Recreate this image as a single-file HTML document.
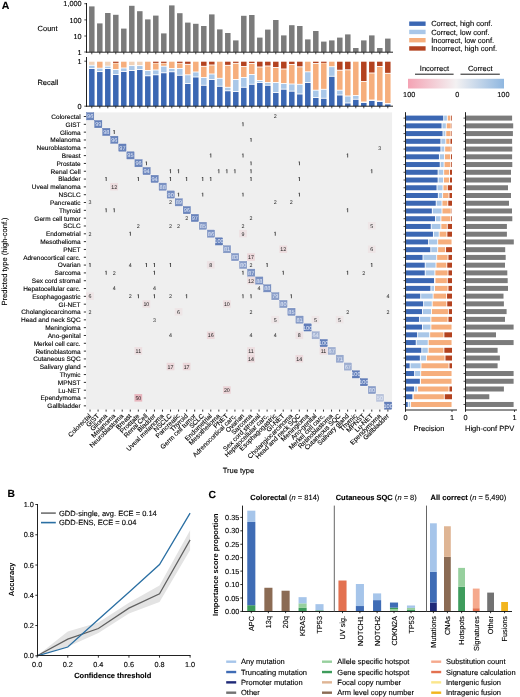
<!DOCTYPE html>
<html><head><meta charset="utf-8"><style>
html,body{margin:0;padding:0;background:#ffffff;width:520px;height:697px;overflow:hidden}
svg{display:block;font-family:"Liberation Sans", sans-serif;will-change:transform;text-rendering:geometricPrecision;filter:blur(0.3px)}
</style></head><body>
<svg width="520" height="697" viewBox="0 0 520 697">
<rect x="0" y="0" width="520" height="697" fill="#ffffff"/>
<text x="1.70" y="8.50" font-size="10.5" text-anchor="start" font-weight="bold" fill="#000000" stroke="#000000" stroke-width="0.12" >A</text>
<text x="7.40" y="497.00" font-size="10.3" text-anchor="start" font-weight="bold" fill="#000000" stroke="#000000" stroke-width="0.12" >B</text>
<text x="208.60" y="497.80" font-size="10.3" text-anchor="start" font-weight="bold" fill="#000000" stroke="#000000" stroke-width="0.12" >C</text>
<rect x="89.05" y="6.40" width="5.50" height="45.60" fill="#7b7b7b" />
<rect x="97.05" y="23.40" width="5.50" height="28.60" fill="#7b7b7b" />
<rect x="105.05" y="13.00" width="5.50" height="39.00" fill="#7b7b7b" />
<rect x="113.05" y="14.80" width="5.50" height="37.20" fill="#7b7b7b" />
<rect x="121.05" y="28.60" width="5.50" height="23.40" fill="#7b7b7b" />
<rect x="129.05" y="5.80" width="5.50" height="46.20" fill="#7b7b7b" />
<rect x="137.05" y="11.20" width="5.50" height="40.80" fill="#7b7b7b" />
<rect x="145.05" y="19.40" width="5.50" height="32.60" fill="#7b7b7b" />
<rect x="153.05" y="15.60" width="5.50" height="36.40" fill="#7b7b7b" />
<rect x="161.05" y="33.40" width="5.50" height="18.60" fill="#7b7b7b" />
<rect x="169.05" y="5.40" width="5.50" height="46.60" fill="#7b7b7b" />
<rect x="177.05" y="13.20" width="5.50" height="38.80" fill="#7b7b7b" />
<rect x="185.05" y="22.60" width="5.50" height="29.40" fill="#7b7b7b" />
<rect x="193.05" y="23.80" width="5.50" height="28.20" fill="#7b7b7b" />
<rect x="201.05" y="26.00" width="5.50" height="26.00" fill="#7b7b7b" />
<rect x="209.05" y="14.40" width="5.50" height="37.60" fill="#7b7b7b" />
<rect x="217.05" y="29.40" width="5.50" height="22.60" fill="#7b7b7b" />
<rect x="225.05" y="33.00" width="5.50" height="19.00" fill="#7b7b7b" />
<rect x="233.05" y="40.40" width="5.50" height="11.60" fill="#7b7b7b" />
<rect x="241.05" y="15.80" width="5.50" height="36.20" fill="#7b7b7b" />
<rect x="249.05" y="15.00" width="5.50" height="37.00" fill="#7b7b7b" />
<rect x="257.05" y="37.60" width="5.50" height="14.40" fill="#7b7b7b" />
<rect x="265.05" y="29.60" width="5.50" height="22.40" fill="#7b7b7b" />
<rect x="273.05" y="20.00" width="5.50" height="32.00" fill="#7b7b7b" />
<rect x="281.05" y="35.40" width="5.50" height="16.60" fill="#7b7b7b" />
<rect x="289.05" y="25.20" width="5.50" height="26.80" fill="#7b7b7b" />
<rect x="297.05" y="26.00" width="5.50" height="26.00" fill="#7b7b7b" />
<rect x="305.05" y="39.40" width="5.50" height="12.60" fill="#7b7b7b" />
<rect x="313.05" y="31.00" width="5.50" height="21.00" fill="#7b7b7b" />
<rect x="321.05" y="41.60" width="5.50" height="10.40" fill="#7b7b7b" />
<rect x="329.05" y="40.40" width="5.50" height="11.60" fill="#7b7b7b" />
<rect x="337.05" y="37.60" width="5.50" height="14.40" fill="#7b7b7b" />
<rect x="345.05" y="34.40" width="5.50" height="17.60" fill="#7b7b7b" />
<rect x="353.05" y="48.00" width="5.50" height="4.00" fill="#7b7b7b" />
<rect x="361.05" y="40.40" width="5.50" height="11.60" fill="#7b7b7b" />
<rect x="369.05" y="35.40" width="5.50" height="16.60" fill="#7b7b7b" />
<rect x="377.05" y="48.00" width="5.50" height="4.00" fill="#7b7b7b" />
<rect x="385.05" y="38.60" width="5.50" height="13.40" fill="#7b7b7b" />
<line x1="86.50" y1="3.00" x2="86.50" y2="52.70" stroke="#222" stroke-width="1.0" />
<line x1="86.00" y1="52.20" x2="393.00" y2="52.20" stroke="#222" stroke-width="1.0" />
<line x1="91.80" y1="52.20" x2="91.80" y2="54.30" stroke="#000000" stroke-width="0.7" />
<line x1="99.80" y1="52.20" x2="99.80" y2="54.30" stroke="#000000" stroke-width="0.7" />
<line x1="107.80" y1="52.20" x2="107.80" y2="54.30" stroke="#000000" stroke-width="0.7" />
<line x1="115.80" y1="52.20" x2="115.80" y2="54.30" stroke="#000000" stroke-width="0.7" />
<line x1="123.80" y1="52.20" x2="123.80" y2="54.30" stroke="#000000" stroke-width="0.7" />
<line x1="131.80" y1="52.20" x2="131.80" y2="54.30" stroke="#000000" stroke-width="0.7" />
<line x1="139.80" y1="52.20" x2="139.80" y2="54.30" stroke="#000000" stroke-width="0.7" />
<line x1="147.80" y1="52.20" x2="147.80" y2="54.30" stroke="#000000" stroke-width="0.7" />
<line x1="155.80" y1="52.20" x2="155.80" y2="54.30" stroke="#000000" stroke-width="0.7" />
<line x1="163.80" y1="52.20" x2="163.80" y2="54.30" stroke="#000000" stroke-width="0.7" />
<line x1="171.80" y1="52.20" x2="171.80" y2="54.30" stroke="#000000" stroke-width="0.7" />
<line x1="179.80" y1="52.20" x2="179.80" y2="54.30" stroke="#000000" stroke-width="0.7" />
<line x1="187.80" y1="52.20" x2="187.80" y2="54.30" stroke="#000000" stroke-width="0.7" />
<line x1="195.80" y1="52.20" x2="195.80" y2="54.30" stroke="#000000" stroke-width="0.7" />
<line x1="203.80" y1="52.20" x2="203.80" y2="54.30" stroke="#000000" stroke-width="0.7" />
<line x1="211.80" y1="52.20" x2="211.80" y2="54.30" stroke="#000000" stroke-width="0.7" />
<line x1="219.80" y1="52.20" x2="219.80" y2="54.30" stroke="#000000" stroke-width="0.7" />
<line x1="227.80" y1="52.20" x2="227.80" y2="54.30" stroke="#000000" stroke-width="0.7" />
<line x1="235.80" y1="52.20" x2="235.80" y2="54.30" stroke="#000000" stroke-width="0.7" />
<line x1="243.80" y1="52.20" x2="243.80" y2="54.30" stroke="#000000" stroke-width="0.7" />
<line x1="251.80" y1="52.20" x2="251.80" y2="54.30" stroke="#000000" stroke-width="0.7" />
<line x1="259.80" y1="52.20" x2="259.80" y2="54.30" stroke="#000000" stroke-width="0.7" />
<line x1="267.80" y1="52.20" x2="267.80" y2="54.30" stroke="#000000" stroke-width="0.7" />
<line x1="275.80" y1="52.20" x2="275.80" y2="54.30" stroke="#000000" stroke-width="0.7" />
<line x1="283.80" y1="52.20" x2="283.80" y2="54.30" stroke="#000000" stroke-width="0.7" />
<line x1="291.80" y1="52.20" x2="291.80" y2="54.30" stroke="#000000" stroke-width="0.7" />
<line x1="299.80" y1="52.20" x2="299.80" y2="54.30" stroke="#000000" stroke-width="0.7" />
<line x1="307.80" y1="52.20" x2="307.80" y2="54.30" stroke="#000000" stroke-width="0.7" />
<line x1="315.80" y1="52.20" x2="315.80" y2="54.30" stroke="#000000" stroke-width="0.7" />
<line x1="323.80" y1="52.20" x2="323.80" y2="54.30" stroke="#000000" stroke-width="0.7" />
<line x1="331.80" y1="52.20" x2="331.80" y2="54.30" stroke="#000000" stroke-width="0.7" />
<line x1="339.80" y1="52.20" x2="339.80" y2="54.30" stroke="#000000" stroke-width="0.7" />
<line x1="347.80" y1="52.20" x2="347.80" y2="54.30" stroke="#000000" stroke-width="0.7" />
<line x1="355.80" y1="52.20" x2="355.80" y2="54.30" stroke="#000000" stroke-width="0.7" />
<line x1="363.80" y1="52.20" x2="363.80" y2="54.30" stroke="#000000" stroke-width="0.7" />
<line x1="371.80" y1="52.20" x2="371.80" y2="54.30" stroke="#000000" stroke-width="0.7" />
<line x1="379.80" y1="52.20" x2="379.80" y2="54.30" stroke="#000000" stroke-width="0.7" />
<line x1="387.80" y1="52.20" x2="387.80" y2="54.30" stroke="#000000" stroke-width="0.7" />
<line x1="84.30" y1="3.70" x2="86.50" y2="3.70" stroke="#000000" stroke-width="0.7" />
<text x="81.60" y="6.30" font-size="7.3" text-anchor="end" font-weight="normal" fill="#000000" stroke="#000000" stroke-width="0.12" >1,000</text>
<line x1="84.30" y1="19.90" x2="86.50" y2="19.90" stroke="#000000" stroke-width="0.7" />
<text x="81.60" y="22.50" font-size="7.3" text-anchor="end" font-weight="normal" fill="#000000" stroke="#000000" stroke-width="0.12" >100</text>
<line x1="84.30" y1="36.00" x2="86.50" y2="36.00" stroke="#000000" stroke-width="0.7" />
<text x="81.60" y="38.60" font-size="7.3" text-anchor="end" font-weight="normal" fill="#000000" stroke="#000000" stroke-width="0.12" >10</text>
<line x1="84.30" y1="52.00" x2="86.50" y2="52.00" stroke="#000000" stroke-width="0.7" />
<text x="81.60" y="54.60" font-size="7.3" text-anchor="end" font-weight="normal" fill="#000000" stroke="#000000" stroke-width="0.12" >1</text>
<text x="47.60" y="31.10" font-size="7.5" text-anchor="middle" font-weight="normal" fill="#000000" stroke="#000000" stroke-width="0.12" >Count</text>
<rect x="89.05" y="68.95" width="5.50" height="37.25" fill="#3b67b3" />
<rect x="89.05" y="65.75" width="5.50" height="2.30" fill="#a9c7e8" />
<rect x="89.05" y="61.70" width="5.50" height="3.15" fill="#f0d2b8" />
<rect x="97.05" y="72.05" width="5.50" height="34.15" fill="#3b67b3" />
<rect x="97.05" y="68.65" width="5.50" height="2.50" fill="#a9c7e8" />
<rect x="97.05" y="61.70" width="5.50" height="6.05" fill="#f6ae7c" />
<rect x="105.05" y="68.95" width="5.50" height="37.25" fill="#3b67b3" />
<rect x="105.05" y="66.65" width="5.50" height="1.40" fill="#a9c7e8" />
<rect x="105.05" y="61.70" width="5.50" height="4.05" fill="#f0d2b8" />
<rect x="113.05" y="74.95" width="5.50" height="31.25" fill="#3b67b3" />
<rect x="113.05" y="69.95" width="5.50" height="4.10" fill="#a9c7e8" />
<rect x="113.05" y="63.45" width="5.50" height="5.60" fill="#f6ae7c" />
<rect x="113.05" y="61.70" width="5.50" height="1.20" fill="#b3421f" />
<rect x="121.05" y="71.95" width="5.50" height="34.25" fill="#3b67b3" />
<rect x="121.05" y="68.45" width="5.50" height="2.60" fill="#a9c7e8" />
<rect x="121.05" y="61.70" width="5.50" height="5.85" fill="#f6ae7c" />
<rect x="129.05" y="70.95" width="5.50" height="35.25" fill="#3b67b3" />
<rect x="129.05" y="66.05" width="5.50" height="4.00" fill="#a9c7e8" />
<rect x="129.05" y="61.70" width="5.50" height="3.45" fill="#f0d2b8" />
<rect x="137.05" y="69.95" width="5.50" height="36.25" fill="#3b67b3" />
<rect x="137.05" y="66.05" width="5.50" height="3.00" fill="#a9c7e8" />
<rect x="137.05" y="61.70" width="5.50" height="3.45" fill="#f0d2b8" />
<rect x="145.05" y="76.25" width="5.50" height="29.95" fill="#3b67b3" />
<rect x="145.05" y="70.95" width="5.50" height="4.40" fill="#a9c7e8" />
<rect x="145.05" y="61.70" width="5.50" height="8.35" fill="#f6ae7c" />
<rect x="153.05" y="75.25" width="5.50" height="30.95" fill="#3b67b3" />
<rect x="153.05" y="70.45" width="5.50" height="3.90" fill="#a9c7e8" />
<rect x="153.05" y="63.45" width="5.50" height="6.10" fill="#f6ae7c" />
<rect x="153.05" y="61.70" width="5.50" height="1.20" fill="#b3421f" />
<rect x="161.05" y="73.25" width="5.50" height="32.95" fill="#3b67b3" />
<rect x="161.05" y="66.65" width="5.50" height="5.70" fill="#a9c7e8" />
<rect x="161.05" y="63.45" width="5.50" height="2.30" fill="#f6ae7c" />
<rect x="161.05" y="61.70" width="5.50" height="1.20" fill="#b3421f" />
<rect x="169.05" y="72.25" width="5.50" height="33.95" fill="#3b67b3" />
<rect x="169.05" y="68.95" width="5.50" height="2.40" fill="#a9c7e8" />
<rect x="169.05" y="61.70" width="5.50" height="6.35" fill="#f6ae7c" />
<rect x="177.05" y="75.75" width="5.50" height="30.45" fill="#3b67b3" />
<rect x="177.05" y="68.95" width="5.50" height="5.90" fill="#a9c7e8" />
<rect x="177.05" y="63.45" width="5.50" height="4.60" fill="#f6ae7c" />
<rect x="177.05" y="61.70" width="5.50" height="1.20" fill="#b3421f" />
<rect x="185.05" y="83.95" width="5.50" height="22.25" fill="#3b67b3" />
<rect x="185.05" y="75.25" width="5.50" height="7.80" fill="#a9c7e8" />
<rect x="185.05" y="64.75" width="5.50" height="9.60" fill="#f6ae7c" />
<rect x="185.05" y="61.70" width="5.50" height="2.15" fill="#b3421f" />
<rect x="193.05" y="77.45" width="5.50" height="28.75" fill="#3b67b3" />
<rect x="193.05" y="72.45" width="5.50" height="4.10" fill="#a9c7e8" />
<rect x="193.05" y="61.70" width="5.50" height="9.85" fill="#f6ae7c" />
<rect x="201.05" y="85.75" width="5.50" height="20.45" fill="#3b67b3" />
<rect x="201.05" y="77.95" width="5.50" height="6.90" fill="#a9c7e8" />
<rect x="201.05" y="66.75" width="5.50" height="10.30" fill="#f6ae7c" />
<rect x="201.05" y="61.70" width="5.50" height="4.15" fill="#b3421f" />
<rect x="209.05" y="79.95" width="5.50" height="26.25" fill="#3b67b3" />
<rect x="209.05" y="74.45" width="5.50" height="4.60" fill="#a9c7e8" />
<rect x="209.05" y="65.45" width="5.50" height="8.10" fill="#f6ae7c" />
<rect x="209.05" y="61.70" width="5.50" height="2.85" fill="#b3421f" />
<rect x="217.05" y="86.75" width="5.50" height="19.45" fill="#3b67b3" />
<rect x="217.05" y="78.75" width="5.50" height="7.10" fill="#a9c7e8" />
<rect x="217.05" y="61.70" width="5.50" height="16.15" fill="#f6ae7c" />
<rect x="225.05" y="91.25" width="5.50" height="14.95" fill="#3b67b3" />
<rect x="225.05" y="87.75" width="5.50" height="2.60" fill="#a9c7e8" />
<rect x="225.05" y="65.75" width="5.50" height="21.10" fill="#f6ae7c" />
<rect x="225.05" y="61.70" width="5.50" height="3.15" fill="#b3421f" />
<rect x="233.05" y="91.95" width="5.50" height="14.25" fill="#3b67b3" />
<rect x="233.05" y="79.95" width="5.50" height="11.10" fill="#a9c7e8" />
<rect x="233.05" y="63.75" width="5.50" height="15.30" fill="#f6ae7c" />
<rect x="233.05" y="61.70" width="5.50" height="1.20" fill="#b3421f" />
<rect x="241.05" y="87.75" width="5.50" height="18.45" fill="#3b67b3" />
<rect x="241.05" y="77.95" width="5.50" height="8.90" fill="#a9c7e8" />
<rect x="241.05" y="66.95" width="5.50" height="10.10" fill="#f6ae7c" />
<rect x="241.05" y="61.70" width="5.50" height="4.35" fill="#b3421f" />
<rect x="249.05" y="84.75" width="5.50" height="21.45" fill="#3b67b3" />
<rect x="249.05" y="74.95" width="5.50" height="8.90" fill="#a9c7e8" />
<rect x="249.05" y="63.95" width="5.50" height="10.10" fill="#f6ae7c" />
<rect x="249.05" y="61.70" width="5.50" height="1.35" fill="#b3421f" />
<rect x="257.05" y="82.95" width="5.50" height="23.25" fill="#3b67b3" />
<rect x="257.05" y="80.95" width="5.50" height="1.10" fill="#a9c7e8" />
<rect x="257.05" y="67.45" width="5.50" height="12.60" fill="#f6ae7c" />
<rect x="257.05" y="61.70" width="5.50" height="4.85" fill="#b3421f" />
<rect x="265.05" y="85.75" width="5.50" height="20.45" fill="#3b67b3" />
<rect x="265.05" y="82.95" width="5.50" height="1.90" fill="#a9c7e8" />
<rect x="265.05" y="66.45" width="5.50" height="15.60" fill="#f6ae7c" />
<rect x="265.05" y="61.70" width="5.50" height="3.85" fill="#b3421f" />
<rect x="273.05" y="92.95" width="5.50" height="13.25" fill="#3b67b3" />
<rect x="273.05" y="82.95" width="5.50" height="9.10" fill="#a9c7e8" />
<rect x="273.05" y="67.95" width="5.50" height="14.10" fill="#f6ae7c" />
<rect x="273.05" y="61.70" width="5.50" height="5.35" fill="#b3421f" />
<rect x="281.05" y="89.65" width="5.50" height="16.55" fill="#3b67b3" />
<rect x="281.05" y="83.95" width="5.50" height="4.80" fill="#a9c7e8" />
<rect x="281.05" y="69.45" width="5.50" height="13.60" fill="#f6ae7c" />
<rect x="281.05" y="61.70" width="5.50" height="6.85" fill="#b3421f" />
<rect x="289.05" y="91.65" width="5.50" height="14.55" fill="#3b67b3" />
<rect x="289.05" y="84.45" width="5.50" height="6.30" fill="#a9c7e8" />
<rect x="289.05" y="64.95" width="5.50" height="18.60" fill="#f6ae7c" />
<rect x="289.05" y="61.70" width="5.50" height="2.35" fill="#b3421f" />
<rect x="297.05" y="94.45" width="5.50" height="11.75" fill="#3b67b3" />
<rect x="297.05" y="84.75" width="5.50" height="8.80" fill="#a9c7e8" />
<rect x="297.05" y="67.25" width="5.50" height="16.60" fill="#f6ae7c" />
<rect x="297.05" y="61.70" width="5.50" height="4.65" fill="#b3421f" />
<rect x="305.05" y="82.95" width="5.50" height="23.25" fill="#3b67b3" />
<rect x="305.05" y="72.25" width="5.50" height="9.80" fill="#a9c7e8" />
<rect x="305.05" y="61.70" width="5.50" height="9.65" fill="#f6ae7c" />
<rect x="313.05" y="97.95" width="5.50" height="8.25" fill="#3b67b3" />
<rect x="313.05" y="90.65" width="5.50" height="6.40" fill="#a9c7e8" />
<rect x="313.05" y="63.95" width="5.50" height="25.80" fill="#f6ae7c" />
<rect x="313.05" y="61.70" width="5.50" height="1.35" fill="#b3421f" />
<rect x="321.05" y="98.75" width="5.50" height="7.45" fill="#3b67b3" />
<rect x="321.05" y="89.75" width="5.50" height="8.10" fill="#a9c7e8" />
<rect x="321.05" y="63.25" width="5.50" height="25.60" fill="#f6ae7c" />
<rect x="321.05" y="61.70" width="5.50" height="1.20" fill="#b3421f" />
<rect x="329.05" y="76.75" width="5.50" height="29.45" fill="#3b67b3" />
<rect x="329.05" y="67.15" width="5.50" height="8.70" fill="#a9c7e8" />
<rect x="329.05" y="61.70" width="5.50" height="4.55" fill="#f6ae7c" />
<rect x="337.05" y="95.45" width="5.50" height="10.75" fill="#3b67b3" />
<rect x="337.05" y="90.65" width="5.50" height="3.90" fill="#a9c7e8" />
<rect x="337.05" y="70.65" width="5.50" height="19.10" fill="#f6ae7c" />
<rect x="337.05" y="61.70" width="5.50" height="8.05" fill="#b3421f" />
<rect x="345.05" y="103.45" width="5.50" height="2.75" fill="#3b67b3" />
<rect x="345.05" y="96.45" width="5.50" height="6.10" fill="#a9c7e8" />
<rect x="345.05" y="70.25" width="5.50" height="25.30" fill="#f6ae7c" />
<rect x="345.05" y="61.70" width="5.50" height="7.65" fill="#b3421f" />
<rect x="353.05" y="99.75" width="5.50" height="6.45" fill="#3b67b3" />
<rect x="353.05" y="95.95" width="5.50" height="2.90" fill="#a9c7e8" />
<rect x="353.05" y="61.70" width="5.50" height="33.35" fill="#f6ae7c" />
<rect x="361.05" y="102.95" width="5.50" height="3.25" fill="#3b67b3" />
<rect x="361.05" y="81.95" width="5.50" height="19.60" fill="#f6ae7c" />
<rect x="361.05" y="61.70" width="5.50" height="19.35" fill="#b3421f" />
<rect x="369.05" y="100.95" width="5.50" height="5.25" fill="#3b67b3" />
<rect x="369.05" y="73.45" width="5.50" height="26.10" fill="#f6ae7c" />
<rect x="369.05" y="61.70" width="5.50" height="10.85" fill="#b3421f" />
<rect x="377.05" y="101.95" width="5.50" height="4.25" fill="#3b67b3" />
<rect x="377.05" y="66.95" width="5.50" height="33.60" fill="#f6ae7c" />
<rect x="377.05" y="61.70" width="5.50" height="4.35" fill="#b3421f" />
<rect x="385.05" y="104.45" width="5.50" height="1.75" fill="#3b67b3" />
<rect x="385.05" y="73.75" width="5.50" height="29.30" fill="#f6ae7c" />
<rect x="385.05" y="61.70" width="5.50" height="11.15" fill="#b3421f" />
<line x1="86.50" y1="57.00" x2="86.50" y2="106.70" stroke="#222" stroke-width="1.0" />
<line x1="86.00" y1="106.20" x2="393.00" y2="106.20" stroke="#222" stroke-width="1.0" />
<line x1="91.80" y1="106.20" x2="91.80" y2="108.30" stroke="#000000" stroke-width="0.7" />
<line x1="99.80" y1="106.20" x2="99.80" y2="108.30" stroke="#000000" stroke-width="0.7" />
<line x1="107.80" y1="106.20" x2="107.80" y2="108.30" stroke="#000000" stroke-width="0.7" />
<line x1="115.80" y1="106.20" x2="115.80" y2="108.30" stroke="#000000" stroke-width="0.7" />
<line x1="123.80" y1="106.20" x2="123.80" y2="108.30" stroke="#000000" stroke-width="0.7" />
<line x1="131.80" y1="106.20" x2="131.80" y2="108.30" stroke="#000000" stroke-width="0.7" />
<line x1="139.80" y1="106.20" x2="139.80" y2="108.30" stroke="#000000" stroke-width="0.7" />
<line x1="147.80" y1="106.20" x2="147.80" y2="108.30" stroke="#000000" stroke-width="0.7" />
<line x1="155.80" y1="106.20" x2="155.80" y2="108.30" stroke="#000000" stroke-width="0.7" />
<line x1="163.80" y1="106.20" x2="163.80" y2="108.30" stroke="#000000" stroke-width="0.7" />
<line x1="171.80" y1="106.20" x2="171.80" y2="108.30" stroke="#000000" stroke-width="0.7" />
<line x1="179.80" y1="106.20" x2="179.80" y2="108.30" stroke="#000000" stroke-width="0.7" />
<line x1="187.80" y1="106.20" x2="187.80" y2="108.30" stroke="#000000" stroke-width="0.7" />
<line x1="195.80" y1="106.20" x2="195.80" y2="108.30" stroke="#000000" stroke-width="0.7" />
<line x1="203.80" y1="106.20" x2="203.80" y2="108.30" stroke="#000000" stroke-width="0.7" />
<line x1="211.80" y1="106.20" x2="211.80" y2="108.30" stroke="#000000" stroke-width="0.7" />
<line x1="219.80" y1="106.20" x2="219.80" y2="108.30" stroke="#000000" stroke-width="0.7" />
<line x1="227.80" y1="106.20" x2="227.80" y2="108.30" stroke="#000000" stroke-width="0.7" />
<line x1="235.80" y1="106.20" x2="235.80" y2="108.30" stroke="#000000" stroke-width="0.7" />
<line x1="243.80" y1="106.20" x2="243.80" y2="108.30" stroke="#000000" stroke-width="0.7" />
<line x1="251.80" y1="106.20" x2="251.80" y2="108.30" stroke="#000000" stroke-width="0.7" />
<line x1="259.80" y1="106.20" x2="259.80" y2="108.30" stroke="#000000" stroke-width="0.7" />
<line x1="267.80" y1="106.20" x2="267.80" y2="108.30" stroke="#000000" stroke-width="0.7" />
<line x1="275.80" y1="106.20" x2="275.80" y2="108.30" stroke="#000000" stroke-width="0.7" />
<line x1="283.80" y1="106.20" x2="283.80" y2="108.30" stroke="#000000" stroke-width="0.7" />
<line x1="291.80" y1="106.20" x2="291.80" y2="108.30" stroke="#000000" stroke-width="0.7" />
<line x1="299.80" y1="106.20" x2="299.80" y2="108.30" stroke="#000000" stroke-width="0.7" />
<line x1="307.80" y1="106.20" x2="307.80" y2="108.30" stroke="#000000" stroke-width="0.7" />
<line x1="315.80" y1="106.20" x2="315.80" y2="108.30" stroke="#000000" stroke-width="0.7" />
<line x1="323.80" y1="106.20" x2="323.80" y2="108.30" stroke="#000000" stroke-width="0.7" />
<line x1="331.80" y1="106.20" x2="331.80" y2="108.30" stroke="#000000" stroke-width="0.7" />
<line x1="339.80" y1="106.20" x2="339.80" y2="108.30" stroke="#000000" stroke-width="0.7" />
<line x1="347.80" y1="106.20" x2="347.80" y2="108.30" stroke="#000000" stroke-width="0.7" />
<line x1="355.80" y1="106.20" x2="355.80" y2="108.30" stroke="#000000" stroke-width="0.7" />
<line x1="363.80" y1="106.20" x2="363.80" y2="108.30" stroke="#000000" stroke-width="0.7" />
<line x1="371.80" y1="106.20" x2="371.80" y2="108.30" stroke="#000000" stroke-width="0.7" />
<line x1="379.80" y1="106.20" x2="379.80" y2="108.30" stroke="#000000" stroke-width="0.7" />
<line x1="387.80" y1="106.20" x2="387.80" y2="108.30" stroke="#000000" stroke-width="0.7" />
<line x1="84.30" y1="61.20" x2="86.50" y2="61.20" stroke="#000000" stroke-width="0.7" />
<text x="81.60" y="63.80" font-size="7.3" text-anchor="end" font-weight="normal" fill="#000000" stroke="#000000" stroke-width="0.12" >1</text>
<line x1="84.30" y1="106.20" x2="86.50" y2="106.20" stroke="#000000" stroke-width="0.7" />
<text x="81.60" y="108.80" font-size="7.3" text-anchor="end" font-weight="normal" fill="#000000" stroke="#000000" stroke-width="0.12" >0</text>
<text x="47.80" y="85.10" font-size="7.5" text-anchor="middle" font-weight="normal" fill="#000000" stroke="#000000" stroke-width="0.12" >Recall</text>
<rect x="86.00" y="112.40" width="306.10" height="297.16" fill="#efefef" />
<rect x="86.10" y="112.20" width="8.25" height="8.22" fill="#fbfbfd" />
<rect x="86.60" y="112.70" width="7.25" height="7.22" fill="#6a85bd" stroke="#5873ac" stroke-width="0.4"/>
<text x="90.22" y="118.36" font-size="5.6" text-anchor="middle" font-weight="normal" fill="#e4ebf8" >96</text>
<rect x="94.15" y="120.02" width="8.25" height="8.22" fill="#fbfbfd" />
<rect x="94.65" y="120.52" width="7.25" height="7.22" fill="#6480bb" stroke="#526ea9" stroke-width="0.4"/>
<text x="98.27" y="126.18" font-size="5.6" text-anchor="middle" font-weight="normal" fill="#e4ebf8" >99</text>
<rect x="102.20" y="127.84" width="8.25" height="8.22" fill="#fbfbfd" />
<rect x="102.70" y="128.34" width="7.25" height="7.22" fill="#6681bc" stroke="#546faa" stroke-width="0.4"/>
<text x="106.32" y="134.00" font-size="5.6" text-anchor="middle" font-weight="normal" fill="#e4ebf8" >98</text>
<rect x="110.25" y="135.66" width="8.25" height="8.22" fill="#fbfbfd" />
<rect x="110.75" y="136.16" width="7.25" height="7.22" fill="#6a85bd" stroke="#5873ac" stroke-width="0.4"/>
<text x="114.38" y="141.82" font-size="5.6" text-anchor="middle" font-weight="normal" fill="#e4ebf8" >96</text>
<rect x="118.30" y="143.48" width="8.25" height="8.22" fill="#fbfbfd" />
<rect x="118.80" y="143.98" width="7.25" height="7.22" fill="#6883bc" stroke="#5671ab" stroke-width="0.4"/>
<text x="122.42" y="149.64" font-size="5.6" text-anchor="middle" font-weight="normal" fill="#e4ebf8" >97</text>
<rect x="126.35" y="151.30" width="8.25" height="8.22" fill="#fbfbfd" />
<rect x="126.85" y="151.80" width="7.25" height="7.22" fill="#6c86be" stroke="#5a74ac" stroke-width="0.4"/>
<text x="130.47" y="157.46" font-size="5.6" text-anchor="middle" font-weight="normal" fill="#e4ebf8" >95</text>
<rect x="134.40" y="159.12" width="8.25" height="8.22" fill="#fbfbfd" />
<rect x="134.90" y="159.62" width="7.25" height="7.22" fill="#6a85bd" stroke="#5873ac" stroke-width="0.4"/>
<text x="138.53" y="165.28" font-size="5.6" text-anchor="middle" font-weight="normal" fill="#e4ebf8" >96</text>
<rect x="142.45" y="166.94" width="8.25" height="8.22" fill="#fbfbfd" />
<rect x="142.95" y="167.44" width="7.25" height="7.22" fill="#6e88bf" stroke="#5c76ad" stroke-width="0.4"/>
<text x="146.58" y="173.10" font-size="5.6" text-anchor="middle" font-weight="normal" fill="#e4ebf8" >94</text>
<rect x="150.50" y="174.76" width="8.25" height="8.22" fill="#fbfbfd" />
<rect x="151.00" y="175.26" width="7.25" height="7.22" fill="#6e88bf" stroke="#5c76ad" stroke-width="0.4"/>
<text x="154.62" y="180.92" font-size="5.6" text-anchor="middle" font-weight="normal" fill="#e4ebf8" >94</text>
<rect x="158.55" y="182.58" width="8.25" height="8.22" fill="#fbfbfd" />
<rect x="159.05" y="183.08" width="7.25" height="7.22" fill="#7a91c3" stroke="#687fb2" stroke-width="0.4"/>
<text x="162.67" y="188.74" font-size="5.6" text-anchor="middle" font-weight="normal" fill="#e4ebf8" >88</text>
<rect x="166.60" y="190.40" width="8.25" height="8.22" fill="#fbfbfd" />
<rect x="167.10" y="190.90" width="7.25" height="7.22" fill="#768ec2" stroke="#647cb1" stroke-width="0.4"/>
<text x="170.72" y="196.56" font-size="5.6" text-anchor="middle" font-weight="normal" fill="#e4ebf8" >90</text>
<rect x="174.65" y="198.22" width="8.25" height="8.22" fill="#fbfbfd" />
<rect x="175.15" y="198.72" width="7.25" height="7.22" fill="#7890c2" stroke="#667eb2" stroke-width="0.4"/>
<text x="178.78" y="204.38" font-size="5.6" text-anchor="middle" font-weight="normal" fill="#e4ebf8" >89</text>
<rect x="182.70" y="206.04" width="8.25" height="8.22" fill="#fbfbfd" />
<rect x="183.20" y="206.54" width="7.25" height="7.22" fill="#6a85bd" stroke="#5873ac" stroke-width="0.4"/>
<text x="186.83" y="212.20" font-size="5.6" text-anchor="middle" font-weight="normal" fill="#e4ebf8" >96</text>
<rect x="190.75" y="213.86" width="8.25" height="8.22" fill="#fbfbfd" />
<rect x="191.25" y="214.36" width="7.25" height="7.22" fill="#6883bc" stroke="#5671ab" stroke-width="0.4"/>
<text x="194.88" y="220.02" font-size="5.6" text-anchor="middle" font-weight="normal" fill="#e4ebf8" >97</text>
<rect x="198.80" y="221.68" width="8.25" height="8.22" fill="#fbfbfd" />
<rect x="199.30" y="222.18" width="7.25" height="7.22" fill="#8096c5" stroke="#6d84b5" stroke-width="0.4"/>
<text x="202.93" y="227.84" font-size="5.6" text-anchor="middle" font-weight="normal" fill="#e4ebf8" >85</text>
<rect x="206.85" y="229.50" width="8.25" height="8.22" fill="#fbfbfd" />
<rect x="207.35" y="230.00" width="7.25" height="7.22" fill="#7e94c5" stroke="#6b82b4" stroke-width="0.4"/>
<text x="210.97" y="235.66" font-size="5.6" text-anchor="middle" font-weight="normal" fill="#e4ebf8" >86</text>
<rect x="214.90" y="237.32" width="8.25" height="8.22" fill="#fbfbfd" />
<rect x="215.40" y="237.82" width="7.25" height="7.22" fill="#627eba" stroke="#506ca8" stroke-width="0.4"/>
<text x="219.03" y="243.48" font-size="5.6" text-anchor="middle" font-weight="normal" fill="#e4ebf8" >100</text>
<rect x="222.95" y="245.14" width="8.25" height="8.22" fill="#fbfbfd" />
<rect x="223.45" y="245.64" width="7.25" height="7.22" fill="#879cc8" stroke="#758ab8" stroke-width="0.4"/>
<text x="227.08" y="251.30" font-size="5.6" text-anchor="middle" font-weight="normal" fill="#e4ebf8" >81</text>
<rect x="231.00" y="252.96" width="8.25" height="8.22" fill="#fbfbfd" />
<rect x="231.50" y="253.46" width="7.25" height="7.22" fill="#8499c7" stroke="#7187b7" stroke-width="0.4"/>
<text x="235.12" y="259.12" font-size="5.6" text-anchor="middle" font-weight="normal" fill="#e4ebf8" >83</text>
<rect x="239.05" y="260.78" width="8.25" height="8.22" fill="#fbfbfd" />
<rect x="239.55" y="261.28" width="7.25" height="7.22" fill="#899dc9" stroke="#768bb9" stroke-width="0.4"/>
<text x="243.18" y="266.94" font-size="5.6" text-anchor="middle" font-weight="normal" fill="#e4ebf8" >80</text>
<rect x="247.10" y="268.60" width="8.25" height="8.22" fill="#fbfbfd" />
<rect x="247.60" y="269.10" width="7.25" height="7.22" fill="#7c93c4" stroke="#6981b3" stroke-width="0.4"/>
<text x="251.22" y="274.76" font-size="5.6" text-anchor="middle" font-weight="normal" fill="#e4ebf8" >87</text>
<rect x="255.15" y="276.42" width="8.25" height="8.22" fill="#fbfbfd" />
<rect x="255.65" y="276.92" width="7.25" height="7.22" fill="#7a91c3" stroke="#687fb2" stroke-width="0.4"/>
<text x="259.28" y="282.58" font-size="5.6" text-anchor="middle" font-weight="normal" fill="#e4ebf8" >88</text>
<rect x="263.20" y="284.24" width="8.25" height="8.22" fill="#fbfbfd" />
<rect x="263.70" y="284.74" width="7.25" height="7.22" fill="#7a91c3" stroke="#687fb2" stroke-width="0.4"/>
<text x="267.33" y="290.40" font-size="5.6" text-anchor="middle" font-weight="normal" fill="#e4ebf8" >88</text>
<rect x="271.25" y="292.06" width="8.25" height="8.22" fill="#fbfbfd" />
<rect x="271.75" y="292.56" width="7.25" height="7.22" fill="#8b9fc9" stroke="#788dba" stroke-width="0.4"/>
<text x="275.38" y="298.22" font-size="5.6" text-anchor="middle" font-weight="normal" fill="#e4ebf8" >79</text>
<rect x="279.30" y="299.88" width="8.25" height="8.22" fill="#fbfbfd" />
<rect x="279.80" y="300.38" width="7.25" height="7.22" fill="#899dc9" stroke="#768bb9" stroke-width="0.4"/>
<text x="283.43" y="306.04" font-size="5.6" text-anchor="middle" font-weight="normal" fill="#e4ebf8" >80</text>
<rect x="287.35" y="307.70" width="8.25" height="8.22" fill="#fbfbfd" />
<rect x="287.85" y="308.20" width="7.25" height="7.22" fill="#8096c5" stroke="#6d84b5" stroke-width="0.4"/>
<text x="291.48" y="313.86" font-size="5.6" text-anchor="middle" font-weight="normal" fill="#e4ebf8" >85</text>
<rect x="295.40" y="315.52" width="8.25" height="8.22" fill="#fbfbfd" />
<rect x="295.90" y="316.02" width="7.25" height="7.22" fill="#879cc8" stroke="#758ab8" stroke-width="0.4"/>
<text x="299.53" y="321.68" font-size="5.6" text-anchor="middle" font-weight="normal" fill="#e4ebf8" >81</text>
<rect x="303.45" y="323.34" width="8.25" height="8.22" fill="#fbfbfd" />
<rect x="303.95" y="323.84" width="7.25" height="7.22" fill="#627eba" stroke="#506ca8" stroke-width="0.4"/>
<text x="307.58" y="329.50" font-size="5.6" text-anchor="middle" font-weight="normal" fill="#e4ebf8" >100</text>
<rect x="311.50" y="331.16" width="8.25" height="8.22" fill="#fbfbfd" />
<rect x="312.00" y="331.66" width="7.25" height="7.22" fill="#a5b4d3" stroke="#92a2c5" stroke-width="0.4"/>
<text x="315.63" y="337.32" font-size="5.6" text-anchor="middle" font-weight="normal" fill="#e4ebf8" >64</text>
<rect x="319.55" y="338.98" width="8.25" height="8.22" fill="#fbfbfd" />
<rect x="320.05" y="339.48" width="7.25" height="7.22" fill="#627eba" stroke="#506ca8" stroke-width="0.4"/>
<text x="323.68" y="345.14" font-size="5.6" text-anchor="middle" font-weight="normal" fill="#e4ebf8" >100</text>
<rect x="327.60" y="346.80" width="8.25" height="8.22" fill="#fbfbfd" />
<rect x="328.10" y="347.30" width="7.25" height="7.22" fill="#a0b0d1" stroke="#8d9ec3" stroke-width="0.4"/>
<text x="331.73" y="352.96" font-size="5.6" text-anchor="middle" font-weight="normal" fill="#e4ebf8" >67</text>
<rect x="335.65" y="354.62" width="8.25" height="8.22" fill="#fbfbfd" />
<rect x="336.15" y="355.12" width="7.25" height="7.22" fill="#99aacf" stroke="#8698c0" stroke-width="0.4"/>
<text x="339.78" y="360.78" font-size="5.6" text-anchor="middle" font-weight="normal" fill="#e4ebf8" >71</text>
<rect x="343.70" y="362.44" width="8.25" height="8.22" fill="#fbfbfd" />
<rect x="344.20" y="362.94" width="7.25" height="7.22" fill="#a0b0d1" stroke="#8d9ec3" stroke-width="0.4"/>
<text x="347.83" y="368.60" font-size="5.6" text-anchor="middle" font-weight="normal" fill="#e4ebf8" >67</text>
<rect x="351.75" y="370.26" width="8.25" height="8.22" fill="#fbfbfd" />
<rect x="352.25" y="370.76" width="7.25" height="7.22" fill="#627eba" stroke="#506ca8" stroke-width="0.4"/>
<text x="355.88" y="376.42" font-size="5.6" text-anchor="middle" font-weight="normal" fill="#e4ebf8" >100</text>
<rect x="359.80" y="378.08" width="8.25" height="8.22" fill="#fbfbfd" />
<rect x="360.30" y="378.58" width="7.25" height="7.22" fill="#627eba" stroke="#506ca8" stroke-width="0.4"/>
<text x="363.93" y="384.24" font-size="5.6" text-anchor="middle" font-weight="normal" fill="#e4ebf8" >100</text>
<rect x="367.85" y="385.90" width="8.25" height="8.22" fill="#fbfbfd" />
<rect x="368.35" y="386.40" width="7.25" height="7.22" fill="#899dc9" stroke="#768bb9" stroke-width="0.4"/>
<text x="371.98" y="392.06" font-size="5.6" text-anchor="middle" font-weight="normal" fill="#e4ebf8" >80</text>
<rect x="375.90" y="393.72" width="8.25" height="8.22" fill="#fbfbfd" />
<rect x="376.40" y="394.22" width="7.25" height="7.22" fill="#bbc5dc" stroke="#a7b3cf" stroke-width="0.4"/>
<text x="380.03" y="399.88" font-size="5.6" text-anchor="middle" font-weight="normal" fill="#e4ebf8" >50</text>
<rect x="383.95" y="401.54" width="8.25" height="8.22" fill="#fbfbfd" />
<rect x="384.45" y="402.04" width="7.25" height="7.22" fill="#627eba" stroke="#506ca8" stroke-width="0.4"/>
<text x="388.08" y="407.70" font-size="5.6" text-anchor="middle" font-weight="normal" fill="#e4ebf8" >100</text>
<text x="275.17" y="118.31" font-size="5.3" text-anchor="middle" font-weight="normal" fill="#1a1a1a" >2</text>
<path d="M242.63,122.28 h0.85 v3.95 h-0.85 z M242.63,122.28 l-0.7,0.7 v0.5 l0.7,-0.5 z" fill="#3a3a3a"/>
<path d="M113.83,130.10 h0.85 v3.95 h-0.85 z M113.83,130.10 l-0.7,0.7 v0.5 l0.7,-0.5 z" fill="#3a3a3a"/>
<path d="M250.68,137.92 h0.85 v3.95 h-0.85 z M250.68,137.92 l-0.7,0.7 v0.5 l0.7,-0.5 z" fill="#3a3a3a"/>
<text x="379.82" y="149.59" font-size="5.3" text-anchor="middle" font-weight="normal" fill="#1a1a1a" >3</text>
<path d="M210.43,153.56 h0.85 v3.95 h-0.85 z M210.43,153.56 l-0.7,0.7 v0.5 l0.7,-0.5 z" fill="#3a3a3a"/>
<path d="M242.63,153.56 h0.85 v3.95 h-0.85 z M242.63,153.56 l-0.7,0.7 v0.5 l0.7,-0.5 z" fill="#3a3a3a"/>
<path d="M347.28,153.56 h0.85 v3.95 h-0.85 z M347.28,153.56 l-0.7,0.7 v0.5 l0.7,-0.5 z" fill="#3a3a3a"/>
<path d="M146.03,161.38 h0.85 v3.95 h-0.85 z M146.03,161.38 l-0.7,0.7 v0.5 l0.7,-0.5 z" fill="#3a3a3a"/>
<path d="M250.68,161.38 h0.85 v3.95 h-0.85 z M250.68,161.38 l-0.7,0.7 v0.5 l0.7,-0.5 z" fill="#3a3a3a"/>
<path d="M298.98,161.38 h0.85 v3.95 h-0.85 z M298.98,161.38 l-0.7,0.7 v0.5 l0.7,-0.5 z" fill="#3a3a3a"/>
<path d="M170.18,169.20 h0.85 v3.95 h-0.85 z M170.18,169.20 l-0.7,0.7 v0.5 l0.7,-0.5 z" fill="#3a3a3a"/>
<path d="M178.23,169.20 h0.85 v3.95 h-0.85 z M178.23,169.20 l-0.7,0.7 v0.5 l0.7,-0.5 z" fill="#3a3a3a"/>
<path d="M218.48,169.20 h0.85 v3.95 h-0.85 z M218.48,169.20 l-0.7,0.7 v0.5 l0.7,-0.5 z" fill="#3a3a3a"/>
<path d="M226.53,169.20 h0.85 v3.95 h-0.85 z M226.53,169.20 l-0.7,0.7 v0.5 l0.7,-0.5 z" fill="#3a3a3a"/>
<path d="M234.58,169.20 h0.85 v3.95 h-0.85 z M234.58,169.20 l-0.7,0.7 v0.5 l0.7,-0.5 z" fill="#3a3a3a"/>
<path d="M250.68,169.20 h0.85 v3.95 h-0.85 z M250.68,169.20 l-0.7,0.7 v0.5 l0.7,-0.5 z" fill="#3a3a3a"/>
<path d="M371.43,169.20 h0.85 v3.95 h-0.85 z M371.43,169.20 l-0.7,0.7 v0.5 l0.7,-0.5 z" fill="#3a3a3a"/>
<path d="M105.77,177.02 h0.85 v3.95 h-0.85 z M105.77,177.02 l-0.7,0.7 v0.5 l0.7,-0.5 z" fill="#3a3a3a"/>
<path d="M137.98,177.02 h0.85 v3.95 h-0.85 z M137.98,177.02 l-0.7,0.7 v0.5 l0.7,-0.5 z" fill="#3a3a3a"/>
<path d="M170.18,177.02 h0.85 v3.95 h-0.85 z M170.18,177.02 l-0.7,0.7 v0.5 l0.7,-0.5 z" fill="#3a3a3a"/>
<path d="M186.28,177.02 h0.85 v3.95 h-0.85 z M186.28,177.02 l-0.7,0.7 v0.5 l0.7,-0.5 z" fill="#3a3a3a"/>
<path d="M202.38,177.02 h0.85 v3.95 h-0.85 z M202.38,177.02 l-0.7,0.7 v0.5 l0.7,-0.5 z" fill="#3a3a3a"/>
<path d="M210.43,177.02 h0.85 v3.95 h-0.85 z M210.43,177.02 l-0.7,0.7 v0.5 l0.7,-0.5 z" fill="#3a3a3a"/>
<path d="M250.68,177.02 h0.85 v3.95 h-0.85 z M250.68,177.02 l-0.7,0.7 v0.5 l0.7,-0.5 z" fill="#3a3a3a"/>
<path d="M298.98,177.02 h0.85 v3.95 h-0.85 z M298.98,177.02 l-0.7,0.7 v0.5 l0.7,-0.5 z" fill="#3a3a3a"/>
<rect x="110.30" y="182.93" width="7.75" height="7.52" fill="#eddddf" />
<text x="114.18" y="188.69" font-size="5.3" text-anchor="middle" font-weight="normal" fill="#1a1a1a" >12</text>
<path d="M178.23,192.66 h0.85 v3.95 h-0.85 z M178.23,192.66 l-0.7,0.7 v0.5 l0.7,-0.5 z" fill="#3a3a3a"/>
<path d="M202.38,192.66 h0.85 v3.95 h-0.85 z M202.38,192.66 l-0.7,0.7 v0.5 l0.7,-0.5 z" fill="#3a3a3a"/>
<path d="M242.63,192.66 h0.85 v3.95 h-0.85 z M242.63,192.66 l-0.7,0.7 v0.5 l0.7,-0.5 z" fill="#3a3a3a"/>
<path d="M298.98,192.66 h0.85 v3.95 h-0.85 z M298.98,192.66 l-0.7,0.7 v0.5 l0.7,-0.5 z" fill="#3a3a3a"/>
<text x="90.03" y="204.33" font-size="5.3" text-anchor="middle" font-weight="normal" fill="#1a1a1a" >3</text>
<text x="170.53" y="204.33" font-size="5.3" text-anchor="middle" font-weight="normal" fill="#1a1a1a" >2</text>
<text x="275.17" y="204.33" font-size="5.3" text-anchor="middle" font-weight="normal" fill="#1a1a1a" >2</text>
<text x="291.27" y="204.33" font-size="5.3" text-anchor="middle" font-weight="normal" fill="#1a1a1a" >2</text>
<path d="M105.77,208.30 h0.85 v3.95 h-0.85 z M105.77,208.30 l-0.7,0.7 v0.5 l0.7,-0.5 z" fill="#3a3a3a"/>
<path d="M113.83,208.30 h0.85 v3.95 h-0.85 z M113.83,208.30 l-0.7,0.7 v0.5 l0.7,-0.5 z" fill="#3a3a3a"/>
<path d="M347.28,208.30 h0.85 v3.95 h-0.85 z M347.28,208.30 l-0.7,0.7 v0.5 l0.7,-0.5 z" fill="#3a3a3a"/>
<text x="186.63" y="219.97" font-size="5.3" text-anchor="middle" font-weight="normal" fill="#1a1a1a" >2</text>
<text x="251.03" y="219.97" font-size="5.3" text-anchor="middle" font-weight="normal" fill="#1a1a1a" >2</text>
<text x="138.33" y="227.79" font-size="5.3" text-anchor="middle" font-weight="normal" fill="#1a1a1a" >2</text>
<text x="170.53" y="227.79" font-size="5.3" text-anchor="middle" font-weight="normal" fill="#1a1a1a" >2</text>
<text x="178.58" y="227.79" font-size="5.3" text-anchor="middle" font-weight="normal" fill="#1a1a1a" >2</text>
<text x="242.98" y="227.79" font-size="5.3" text-anchor="middle" font-weight="normal" fill="#1a1a1a" >2</text>
<rect x="367.90" y="222.03" width="7.75" height="7.52" fill="#eee6e7" />
<text x="371.77" y="227.79" font-size="5.3" text-anchor="middle" font-weight="normal" fill="#1a1a1a" >5</text>
<text x="90.03" y="235.61" font-size="5.3" text-anchor="middle" font-weight="normal" fill="#1a1a1a" >2</text>
<path d="M129.93,231.76 h0.85 v3.95 h-0.85 z M129.93,231.76 l-0.7,0.7 v0.5 l0.7,-0.5 z" fill="#3a3a3a"/>
<rect x="239.10" y="229.85" width="7.75" height="7.52" fill="#ede1e3" />
<text x="242.98" y="235.61" font-size="5.3" text-anchor="middle" font-weight="normal" fill="#1a1a1a" >9</text>
<path d="M274.82,231.76 h0.85 v3.95 h-0.85 z M274.82,231.76 l-0.7,0.7 v0.5 l0.7,-0.5 z" fill="#3a3a3a"/>
<rect x="279.35" y="245.49" width="7.75" height="7.52" fill="#eddddf" />
<text x="283.23" y="251.25" font-size="5.3" text-anchor="middle" font-weight="normal" fill="#1a1a1a" >12</text>
<rect x="367.90" y="245.49" width="7.75" height="7.52" fill="#eee5e6" />
<text x="371.77" y="251.25" font-size="5.3" text-anchor="middle" font-weight="normal" fill="#1a1a1a" >6</text>
<rect x="247.15" y="253.31" width="7.75" height="7.52" fill="#ecd7da" />
<text x="251.03" y="259.07" font-size="5.3" text-anchor="middle" font-weight="normal" fill="#1a1a1a" >17</text>
<path d="M89.67,263.04 h0.85 v3.95 h-0.85 z M89.67,263.04 l-0.7,0.7 v0.5 l0.7,-0.5 z" fill="#3a3a3a"/>
<text x="130.28" y="266.89" font-size="5.3" text-anchor="middle" font-weight="normal" fill="#1a1a1a" >4</text>
<path d="M146.03,263.04 h0.85 v3.95 h-0.85 z M146.03,263.04 l-0.7,0.7 v0.5 l0.7,-0.5 z" fill="#3a3a3a"/>
<path d="M154.08,263.04 h0.85 v3.95 h-0.85 z M154.08,263.04 l-0.7,0.7 v0.5 l0.7,-0.5 z" fill="#3a3a3a"/>
<path d="M170.18,263.04 h0.85 v3.95 h-0.85 z M170.18,263.04 l-0.7,0.7 v0.5 l0.7,-0.5 z" fill="#3a3a3a"/>
<rect x="206.90" y="261.13" width="7.75" height="7.52" fill="#ede2e4" />
<text x="210.78" y="266.89" font-size="5.3" text-anchor="middle" font-weight="normal" fill="#1a1a1a" >8</text>
<text x="251.03" y="266.89" font-size="5.3" text-anchor="middle" font-weight="normal" fill="#1a1a1a" >2</text>
<path d="M266.78,263.04 h0.85 v3.95 h-0.85 z M266.78,263.04 l-0.7,0.7 v0.5 l0.7,-0.5 z" fill="#3a3a3a"/>
<path d="M371.43,263.04 h0.85 v3.95 h-0.85 z M371.43,263.04 l-0.7,0.7 v0.5 l0.7,-0.5 z" fill="#3a3a3a"/>
<path d="M105.77,270.86 h0.85 v3.95 h-0.85 z M105.77,270.86 l-0.7,0.7 v0.5 l0.7,-0.5 z" fill="#3a3a3a"/>
<text x="114.18" y="274.71" font-size="5.3" text-anchor="middle" font-weight="normal" fill="#1a1a1a" >2</text>
<path d="M154.08,270.86 h0.85 v3.95 h-0.85 z M154.08,270.86 l-0.7,0.7 v0.5 l0.7,-0.5 z" fill="#3a3a3a"/>
<path d="M242.63,270.86 h0.85 v3.95 h-0.85 z M242.63,270.86 l-0.7,0.7 v0.5 l0.7,-0.5 z" fill="#3a3a3a"/>
<path d="M282.88,270.86 h0.85 v3.95 h-0.85 z M282.88,270.86 l-0.7,0.7 v0.5 l0.7,-0.5 z" fill="#3a3a3a"/>
<path d="M347.28,270.86 h0.85 v3.95 h-0.85 z M347.28,270.86 l-0.7,0.7 v0.5 l0.7,-0.5 z" fill="#3a3a3a"/>
<text x="363.73" y="274.71" font-size="5.3" text-anchor="middle" font-weight="normal" fill="#1a1a1a" >2</text>
<rect x="247.15" y="276.77" width="7.75" height="7.52" fill="#eddddf" />
<text x="251.03" y="282.53" font-size="5.3" text-anchor="middle" font-weight="normal" fill="#1a1a1a" >12</text>
<text x="114.18" y="290.35" font-size="5.3" text-anchor="middle" font-weight="normal" fill="#1a1a1a" >4</text>
<text x="154.43" y="290.35" font-size="5.3" text-anchor="middle" font-weight="normal" fill="#1a1a1a" >4</text>
<text x="259.08" y="290.35" font-size="5.3" text-anchor="middle" font-weight="normal" fill="#1a1a1a" >4</text>
<rect x="86.15" y="292.41" width="7.75" height="7.52" fill="#eee5e6" />
<text x="90.03" y="298.17" font-size="5.3" text-anchor="middle" font-weight="normal" fill="#1a1a1a" >6</text>
<text x="130.28" y="298.17" font-size="5.3" text-anchor="middle" font-weight="normal" fill="#1a1a1a" >2</text>
<path d="M137.98,294.32 h0.85 v3.95 h-0.85 z M137.98,294.32 l-0.7,0.7 v0.5 l0.7,-0.5 z" fill="#3a3a3a"/>
<path d="M154.08,294.32 h0.85 v3.95 h-0.85 z M154.08,294.32 l-0.7,0.7 v0.5 l0.7,-0.5 z" fill="#3a3a3a"/>
<text x="170.53" y="298.17" font-size="5.3" text-anchor="middle" font-weight="normal" fill="#1a1a1a" >2</text>
<path d="M186.28,294.32 h0.85 v3.95 h-0.85 z M186.28,294.32 l-0.7,0.7 v0.5 l0.7,-0.5 z" fill="#3a3a3a"/>
<path d="M242.63,294.32 h0.85 v3.95 h-0.85 z M242.63,294.32 l-0.7,0.7 v0.5 l0.7,-0.5 z" fill="#3a3a3a"/>
<path d="M250.68,294.32 h0.85 v3.95 h-0.85 z M250.68,294.32 l-0.7,0.7 v0.5 l0.7,-0.5 z" fill="#3a3a3a"/>
<path d="M290.93,294.32 h0.85 v3.95 h-0.85 z M290.93,294.32 l-0.7,0.7 v0.5 l0.7,-0.5 z" fill="#3a3a3a"/>
<text x="387.88" y="298.17" font-size="5.3" text-anchor="middle" font-weight="normal" fill="#1a1a1a" >4</text>
<rect x="142.50" y="300.23" width="7.75" height="7.52" fill="#eddfe1" />
<text x="146.38" y="305.99" font-size="5.3" text-anchor="middle" font-weight="normal" fill="#1a1a1a" >10</text>
<rect x="223.00" y="300.23" width="7.75" height="7.52" fill="#eddfe1" />
<text x="226.88" y="305.99" font-size="5.3" text-anchor="middle" font-weight="normal" fill="#1a1a1a" >10</text>
<text x="90.03" y="313.81" font-size="5.3" text-anchor="middle" font-weight="normal" fill="#1a1a1a" >2</text>
<rect x="174.70" y="308.05" width="7.75" height="7.52" fill="#eee5e6" />
<text x="178.58" y="313.81" font-size="5.3" text-anchor="middle" font-weight="normal" fill="#1a1a1a" >6</text>
<text x="251.03" y="313.81" font-size="5.3" text-anchor="middle" font-weight="normal" fill="#1a1a1a" >2</text>
<text x="347.62" y="313.81" font-size="5.3" text-anchor="middle" font-weight="normal" fill="#1a1a1a" >2</text>
<text x="387.88" y="313.81" font-size="5.3" text-anchor="middle" font-weight="normal" fill="#1a1a1a" >2</text>
<text x="154.43" y="321.63" font-size="5.3" text-anchor="middle" font-weight="normal" fill="#1a1a1a" >3</text>
<rect x="271.30" y="315.87" width="7.75" height="7.52" fill="#eee6e7" />
<text x="275.17" y="321.63" font-size="5.3" text-anchor="middle" font-weight="normal" fill="#1a1a1a" >5</text>
<rect x="311.55" y="315.87" width="7.75" height="7.52" fill="#eee6e7" />
<text x="315.43" y="321.63" font-size="5.3" text-anchor="middle" font-weight="normal" fill="#1a1a1a" >5</text>
<rect x="335.70" y="315.87" width="7.75" height="7.52" fill="#eee6e7" />
<text x="339.57" y="321.63" font-size="5.3" text-anchor="middle" font-weight="normal" fill="#1a1a1a" >5</text>
<text x="170.53" y="337.27" font-size="5.3" text-anchor="middle" font-weight="normal" fill="#1a1a1a" >4</text>
<rect x="206.90" y="331.51" width="7.75" height="7.52" fill="#ecd8db" />
<text x="210.78" y="337.27" font-size="5.3" text-anchor="middle" font-weight="normal" fill="#1a1a1a" >16</text>
<text x="251.03" y="337.27" font-size="5.3" text-anchor="middle" font-weight="normal" fill="#1a1a1a" >4</text>
<text x="275.17" y="337.27" font-size="5.3" text-anchor="middle" font-weight="normal" fill="#1a1a1a" >4</text>
<rect x="295.45" y="331.51" width="7.75" height="7.52" fill="#ede2e4" />
<text x="299.32" y="337.27" font-size="5.3" text-anchor="middle" font-weight="normal" fill="#1a1a1a" >8</text>
<rect x="134.45" y="347.15" width="7.75" height="7.52" fill="#eddee0" />
<text x="138.33" y="352.91" font-size="5.3" text-anchor="middle" font-weight="normal" fill="#1a1a1a" >11</text>
<rect x="247.15" y="347.15" width="7.75" height="7.52" fill="#eddee0" />
<text x="251.03" y="352.91" font-size="5.3" text-anchor="middle" font-weight="normal" fill="#1a1a1a" >11</text>
<rect x="319.60" y="347.15" width="7.75" height="7.52" fill="#eddee0" />
<text x="323.48" y="352.91" font-size="5.3" text-anchor="middle" font-weight="normal" fill="#1a1a1a" >11</text>
<rect x="247.15" y="354.97" width="7.75" height="7.52" fill="#ecdadd" />
<text x="251.03" y="360.73" font-size="5.3" text-anchor="middle" font-weight="normal" fill="#1a1a1a" >14</text>
<rect x="295.45" y="354.97" width="7.75" height="7.52" fill="#ecdadd" />
<text x="299.32" y="360.73" font-size="5.3" text-anchor="middle" font-weight="normal" fill="#1a1a1a" >14</text>
<rect x="166.65" y="362.79" width="7.75" height="7.52" fill="#ecd7da" />
<text x="170.53" y="368.55" font-size="5.3" text-anchor="middle" font-weight="normal" fill="#1a1a1a" >17</text>
<rect x="182.75" y="362.79" width="7.75" height="7.52" fill="#ecd7da" />
<text x="186.63" y="368.55" font-size="5.3" text-anchor="middle" font-weight="normal" fill="#1a1a1a" >17</text>
<rect x="223.00" y="386.25" width="7.75" height="7.52" fill="#ecd4d7" />
<text x="226.88" y="392.01" font-size="5.3" text-anchor="middle" font-weight="normal" fill="#1a1a1a" >20</text>
<rect x="134.45" y="394.07" width="7.75" height="7.52" fill="#e8b6be" />
<text x="138.33" y="399.83" font-size="5.3" text-anchor="middle" font-weight="normal" fill="#1a1a1a" >50</text>
<line x1="83.80" y1="116.51" x2="86.00" y2="116.51" stroke="#000000" stroke-width="0.8" />
<text x="80.60" y="118.91" font-size="6.5" text-anchor="end" font-weight="normal" fill="#000000" stroke="#000000" stroke-width="0.12" >Colorectal</text>
<line x1="83.80" y1="124.33" x2="86.00" y2="124.33" stroke="#000000" stroke-width="0.8" />
<text x="80.60" y="126.73" font-size="6.5" text-anchor="end" font-weight="normal" fill="#000000" stroke="#000000" stroke-width="0.12" >GIST</text>
<line x1="83.80" y1="132.15" x2="86.00" y2="132.15" stroke="#000000" stroke-width="0.8" />
<text x="80.60" y="134.55" font-size="6.5" text-anchor="end" font-weight="normal" fill="#000000" stroke="#000000" stroke-width="0.12" >Glioma</text>
<line x1="83.80" y1="139.97" x2="86.00" y2="139.97" stroke="#000000" stroke-width="0.8" />
<text x="80.60" y="142.37" font-size="6.5" text-anchor="end" font-weight="normal" fill="#000000" stroke="#000000" stroke-width="0.12" >Melanoma</text>
<line x1="83.80" y1="147.79" x2="86.00" y2="147.79" stroke="#000000" stroke-width="0.8" />
<text x="80.60" y="150.19" font-size="6.5" text-anchor="end" font-weight="normal" fill="#000000" stroke="#000000" stroke-width="0.12" >Neuroblastoma</text>
<line x1="83.80" y1="155.61" x2="86.00" y2="155.61" stroke="#000000" stroke-width="0.8" />
<text x="80.60" y="158.01" font-size="6.5" text-anchor="end" font-weight="normal" fill="#000000" stroke="#000000" stroke-width="0.12" >Breast</text>
<line x1="83.80" y1="163.43" x2="86.00" y2="163.43" stroke="#000000" stroke-width="0.8" />
<text x="80.60" y="165.83" font-size="6.5" text-anchor="end" font-weight="normal" fill="#000000" stroke="#000000" stroke-width="0.12" >Prostate</text>
<line x1="83.80" y1="171.25" x2="86.00" y2="171.25" stroke="#000000" stroke-width="0.8" />
<text x="80.60" y="173.65" font-size="6.5" text-anchor="end" font-weight="normal" fill="#000000" stroke="#000000" stroke-width="0.12" >Renal Cell</text>
<line x1="83.80" y1="179.07" x2="86.00" y2="179.07" stroke="#000000" stroke-width="0.8" />
<text x="80.60" y="181.47" font-size="6.5" text-anchor="end" font-weight="normal" fill="#000000" stroke="#000000" stroke-width="0.12" >Bladder</text>
<line x1="83.80" y1="186.89" x2="86.00" y2="186.89" stroke="#000000" stroke-width="0.8" />
<text x="80.60" y="189.29" font-size="6.5" text-anchor="end" font-weight="normal" fill="#000000" stroke="#000000" stroke-width="0.12" >Uveal melanoma</text>
<line x1="83.80" y1="194.71" x2="86.00" y2="194.71" stroke="#000000" stroke-width="0.8" />
<text x="80.60" y="197.11" font-size="6.5" text-anchor="end" font-weight="normal" fill="#000000" stroke="#000000" stroke-width="0.12" >NSCLC</text>
<line x1="83.80" y1="202.53" x2="86.00" y2="202.53" stroke="#000000" stroke-width="0.8" />
<text x="80.60" y="204.93" font-size="6.5" text-anchor="end" font-weight="normal" fill="#000000" stroke="#000000" stroke-width="0.12" >Pancreatic</text>
<line x1="83.80" y1="210.35" x2="86.00" y2="210.35" stroke="#000000" stroke-width="0.8" />
<text x="80.60" y="212.75" font-size="6.5" text-anchor="end" font-weight="normal" fill="#000000" stroke="#000000" stroke-width="0.12" >Thyroid</text>
<line x1="83.80" y1="218.17" x2="86.00" y2="218.17" stroke="#000000" stroke-width="0.8" />
<text x="80.60" y="220.57" font-size="6.5" text-anchor="end" font-weight="normal" fill="#000000" stroke="#000000" stroke-width="0.12" >Germ cell tumor</text>
<line x1="83.80" y1="225.99" x2="86.00" y2="225.99" stroke="#000000" stroke-width="0.8" />
<text x="80.60" y="228.39" font-size="6.5" text-anchor="end" font-weight="normal" fill="#000000" stroke="#000000" stroke-width="0.12" >SCLC</text>
<line x1="83.80" y1="233.81" x2="86.00" y2="233.81" stroke="#000000" stroke-width="0.8" />
<text x="80.60" y="236.21" font-size="6.5" text-anchor="end" font-weight="normal" fill="#000000" stroke="#000000" stroke-width="0.12" >Endometrial</text>
<line x1="83.80" y1="241.63" x2="86.00" y2="241.63" stroke="#000000" stroke-width="0.8" />
<text x="80.60" y="244.03" font-size="6.5" text-anchor="end" font-weight="normal" fill="#000000" stroke="#000000" stroke-width="0.12" >Mesothelioma</text>
<line x1="83.80" y1="249.45" x2="86.00" y2="249.45" stroke="#000000" stroke-width="0.8" />
<text x="80.60" y="251.85" font-size="6.5" text-anchor="end" font-weight="normal" fill="#000000" stroke="#000000" stroke-width="0.12" >PNET</text>
<line x1="83.80" y1="257.27" x2="86.00" y2="257.27" stroke="#000000" stroke-width="0.8" />
<text x="80.60" y="259.67" font-size="6.5" text-anchor="end" font-weight="normal" fill="#000000" stroke="#000000" stroke-width="0.12" >Adrenocortical carc.</text>
<line x1="83.80" y1="265.09" x2="86.00" y2="265.09" stroke="#000000" stroke-width="0.8" />
<text x="80.60" y="267.49" font-size="6.5" text-anchor="end" font-weight="normal" fill="#000000" stroke="#000000" stroke-width="0.12" >Ovarian</text>
<line x1="83.80" y1="272.91" x2="86.00" y2="272.91" stroke="#000000" stroke-width="0.8" />
<text x="80.60" y="275.31" font-size="6.5" text-anchor="end" font-weight="normal" fill="#000000" stroke="#000000" stroke-width="0.12" >Sarcoma</text>
<line x1="83.80" y1="280.73" x2="86.00" y2="280.73" stroke="#000000" stroke-width="0.8" />
<text x="80.60" y="283.13" font-size="6.5" text-anchor="end" font-weight="normal" fill="#000000" stroke="#000000" stroke-width="0.12" >Sex cord stromal</text>
<line x1="83.80" y1="288.55" x2="86.00" y2="288.55" stroke="#000000" stroke-width="0.8" />
<text x="80.60" y="290.95" font-size="6.5" text-anchor="end" font-weight="normal" fill="#000000" stroke="#000000" stroke-width="0.12" >Hepatocellular carc.</text>
<line x1="83.80" y1="296.37" x2="86.00" y2="296.37" stroke="#000000" stroke-width="0.8" />
<text x="80.60" y="298.77" font-size="6.5" text-anchor="end" font-weight="normal" fill="#000000" stroke="#000000" stroke-width="0.12" >Esophagogastric</text>
<line x1="83.80" y1="304.19" x2="86.00" y2="304.19" stroke="#000000" stroke-width="0.8" />
<text x="80.60" y="306.59" font-size="6.5" text-anchor="end" font-weight="normal" fill="#000000" stroke="#000000" stroke-width="0.12" >GI-NET</text>
<line x1="83.80" y1="312.01" x2="86.00" y2="312.01" stroke="#000000" stroke-width="0.8" />
<text x="80.60" y="314.41" font-size="6.5" text-anchor="end" font-weight="normal" fill="#000000" stroke="#000000" stroke-width="0.12" >Cholangiocarcinoma</text>
<line x1="83.80" y1="319.83" x2="86.00" y2="319.83" stroke="#000000" stroke-width="0.8" />
<text x="80.60" y="322.23" font-size="6.5" text-anchor="end" font-weight="normal" fill="#000000" stroke="#000000" stroke-width="0.12" >Head and neck SQC</text>
<line x1="83.80" y1="327.65" x2="86.00" y2="327.65" stroke="#000000" stroke-width="0.8" />
<text x="80.60" y="330.05" font-size="6.5" text-anchor="end" font-weight="normal" fill="#000000" stroke="#000000" stroke-width="0.12" >Meningioma</text>
<line x1="83.80" y1="335.47" x2="86.00" y2="335.47" stroke="#000000" stroke-width="0.8" />
<text x="80.60" y="337.87" font-size="6.5" text-anchor="end" font-weight="normal" fill="#000000" stroke="#000000" stroke-width="0.12" >Ano-genital</text>
<line x1="83.80" y1="343.29" x2="86.00" y2="343.29" stroke="#000000" stroke-width="0.8" />
<text x="80.60" y="345.69" font-size="6.5" text-anchor="end" font-weight="normal" fill="#000000" stroke="#000000" stroke-width="0.12" >Merkel cell carc.</text>
<line x1="83.80" y1="351.11" x2="86.00" y2="351.11" stroke="#000000" stroke-width="0.8" />
<text x="80.60" y="353.51" font-size="6.5" text-anchor="end" font-weight="normal" fill="#000000" stroke="#000000" stroke-width="0.12" >Retinoblastoma</text>
<line x1="83.80" y1="358.93" x2="86.00" y2="358.93" stroke="#000000" stroke-width="0.8" />
<text x="80.60" y="361.33" font-size="6.5" text-anchor="end" font-weight="normal" fill="#000000" stroke="#000000" stroke-width="0.12" >Cutaneous SQC</text>
<line x1="83.80" y1="366.75" x2="86.00" y2="366.75" stroke="#000000" stroke-width="0.8" />
<text x="80.60" y="369.15" font-size="6.5" text-anchor="end" font-weight="normal" fill="#000000" stroke="#000000" stroke-width="0.12" >Salivary gland</text>
<line x1="83.80" y1="374.57" x2="86.00" y2="374.57" stroke="#000000" stroke-width="0.8" />
<text x="80.60" y="376.97" font-size="6.5" text-anchor="end" font-weight="normal" fill="#000000" stroke="#000000" stroke-width="0.12" >Thymic</text>
<line x1="83.80" y1="382.39" x2="86.00" y2="382.39" stroke="#000000" stroke-width="0.8" />
<text x="80.60" y="384.79" font-size="6.5" text-anchor="end" font-weight="normal" fill="#000000" stroke="#000000" stroke-width="0.12" >MPNST</text>
<line x1="83.80" y1="390.21" x2="86.00" y2="390.21" stroke="#000000" stroke-width="0.8" />
<text x="80.60" y="392.61" font-size="6.5" text-anchor="end" font-weight="normal" fill="#000000" stroke="#000000" stroke-width="0.12" >Lu-NET</text>
<line x1="83.80" y1="398.03" x2="86.00" y2="398.03" stroke="#000000" stroke-width="0.8" />
<text x="80.60" y="400.43" font-size="6.5" text-anchor="end" font-weight="normal" fill="#000000" stroke="#000000" stroke-width="0.12" >Ependymoma</text>
<line x1="83.80" y1="405.85" x2="86.00" y2="405.85" stroke="#000000" stroke-width="0.8" />
<text x="80.60" y="408.25" font-size="6.5" text-anchor="end" font-weight="normal" fill="#000000" stroke="#000000" stroke-width="0.12" >Gallbladder</text>
<line x1="90.03" y1="409.60" x2="90.03" y2="411.60" stroke="#000000" stroke-width="0.8" />
<text transform="translate(91.62,416.40) rotate(-45)" font-size="6.6" text-anchor="end" fill="#000000" stroke="#000000" stroke-width="0.12">Colorectal</text>
<line x1="98.08" y1="409.60" x2="98.08" y2="411.60" stroke="#000000" stroke-width="0.8" />
<text transform="translate(99.67,416.40) rotate(-45)" font-size="6.6" text-anchor="end" fill="#000000" stroke="#000000" stroke-width="0.12">GIST</text>
<line x1="106.12" y1="409.60" x2="106.12" y2="411.60" stroke="#000000" stroke-width="0.8" />
<text transform="translate(107.72,416.40) rotate(-45)" font-size="6.6" text-anchor="end" fill="#000000" stroke="#000000" stroke-width="0.12">Glioma</text>
<line x1="114.18" y1="409.60" x2="114.18" y2="411.60" stroke="#000000" stroke-width="0.8" />
<text transform="translate(115.78,416.40) rotate(-45)" font-size="6.6" text-anchor="end" fill="#000000" stroke="#000000" stroke-width="0.12">Melanoma</text>
<line x1="122.23" y1="409.60" x2="122.23" y2="411.60" stroke="#000000" stroke-width="0.8" />
<text transform="translate(123.83,416.40) rotate(-45)" font-size="6.6" text-anchor="end" fill="#000000" stroke="#000000" stroke-width="0.12">Neuroblastoma</text>
<line x1="130.28" y1="409.60" x2="130.28" y2="411.60" stroke="#000000" stroke-width="0.8" />
<text transform="translate(131.88,416.40) rotate(-45)" font-size="6.6" text-anchor="end" fill="#000000" stroke="#000000" stroke-width="0.12">Breast</text>
<line x1="138.33" y1="409.60" x2="138.33" y2="411.60" stroke="#000000" stroke-width="0.8" />
<text transform="translate(139.93,416.40) rotate(-45)" font-size="6.6" text-anchor="end" fill="#000000" stroke="#000000" stroke-width="0.12">Prostate</text>
<line x1="146.38" y1="409.60" x2="146.38" y2="411.60" stroke="#000000" stroke-width="0.8" />
<text transform="translate(147.98,416.40) rotate(-45)" font-size="6.6" text-anchor="end" fill="#000000" stroke="#000000" stroke-width="0.12">Renal Cell</text>
<line x1="154.43" y1="409.60" x2="154.43" y2="411.60" stroke="#000000" stroke-width="0.8" />
<text transform="translate(156.03,416.40) rotate(-45)" font-size="6.6" text-anchor="end" fill="#000000" stroke="#000000" stroke-width="0.12">Bladder</text>
<line x1="162.47" y1="409.60" x2="162.47" y2="411.60" stroke="#000000" stroke-width="0.8" />
<text transform="translate(164.07,416.40) rotate(-45)" font-size="6.6" text-anchor="end" fill="#000000" stroke="#000000" stroke-width="0.12">Uveal melanoma</text>
<line x1="170.53" y1="409.60" x2="170.53" y2="411.60" stroke="#000000" stroke-width="0.8" />
<text transform="translate(172.12,416.40) rotate(-45)" font-size="6.6" text-anchor="end" fill="#000000" stroke="#000000" stroke-width="0.12">NSCLC</text>
<line x1="178.58" y1="409.60" x2="178.58" y2="411.60" stroke="#000000" stroke-width="0.8" />
<text transform="translate(180.18,416.40) rotate(-45)" font-size="6.6" text-anchor="end" fill="#000000" stroke="#000000" stroke-width="0.12">Pancreatic</text>
<line x1="186.63" y1="409.60" x2="186.63" y2="411.60" stroke="#000000" stroke-width="0.8" />
<text transform="translate(188.23,416.40) rotate(-45)" font-size="6.6" text-anchor="end" fill="#000000" stroke="#000000" stroke-width="0.12">Thyroid</text>
<line x1="194.68" y1="409.60" x2="194.68" y2="411.60" stroke="#000000" stroke-width="0.8" />
<text transform="translate(196.28,416.40) rotate(-45)" font-size="6.6" text-anchor="end" fill="#000000" stroke="#000000" stroke-width="0.12">Germ cell tumor</text>
<line x1="202.73" y1="409.60" x2="202.73" y2="411.60" stroke="#000000" stroke-width="0.8" />
<text transform="translate(204.33,416.40) rotate(-45)" font-size="6.6" text-anchor="end" fill="#000000" stroke="#000000" stroke-width="0.12">SCLC</text>
<line x1="210.78" y1="409.60" x2="210.78" y2="411.60" stroke="#000000" stroke-width="0.8" />
<text transform="translate(212.38,416.40) rotate(-45)" font-size="6.6" text-anchor="end" fill="#000000" stroke="#000000" stroke-width="0.12">Endometrial</text>
<line x1="218.83" y1="409.60" x2="218.83" y2="411.60" stroke="#000000" stroke-width="0.8" />
<text transform="translate(220.43,416.40) rotate(-45)" font-size="6.6" text-anchor="end" fill="#000000" stroke="#000000" stroke-width="0.12">Mesothelioma</text>
<line x1="226.88" y1="409.60" x2="226.88" y2="411.60" stroke="#000000" stroke-width="0.8" />
<text transform="translate(228.48,416.40) rotate(-45)" font-size="6.6" text-anchor="end" fill="#000000" stroke="#000000" stroke-width="0.12">PNET</text>
<line x1="234.93" y1="409.60" x2="234.93" y2="411.60" stroke="#000000" stroke-width="0.8" />
<text transform="translate(236.53,416.40) rotate(-45)" font-size="6.6" text-anchor="end" fill="#000000" stroke="#000000" stroke-width="0.12">Adrenocortical carc.</text>
<line x1="242.98" y1="409.60" x2="242.98" y2="411.60" stroke="#000000" stroke-width="0.8" />
<text transform="translate(244.58,416.40) rotate(-45)" font-size="6.6" text-anchor="end" fill="#000000" stroke="#000000" stroke-width="0.12">Ovarian</text>
<line x1="251.03" y1="409.60" x2="251.03" y2="411.60" stroke="#000000" stroke-width="0.8" />
<text transform="translate(252.62,416.40) rotate(-45)" font-size="6.6" text-anchor="end" fill="#000000" stroke="#000000" stroke-width="0.12">Sarcoma</text>
<line x1="259.07" y1="409.60" x2="259.07" y2="411.60" stroke="#000000" stroke-width="0.8" />
<text transform="translate(260.68,416.40) rotate(-45)" font-size="6.6" text-anchor="end" fill="#000000" stroke="#000000" stroke-width="0.12">Sex cord stromal</text>
<line x1="267.12" y1="409.60" x2="267.12" y2="411.60" stroke="#000000" stroke-width="0.8" />
<text transform="translate(268.73,416.40) rotate(-45)" font-size="6.6" text-anchor="end" fill="#000000" stroke="#000000" stroke-width="0.12">Hepatocellular carc.</text>
<line x1="275.17" y1="409.60" x2="275.17" y2="411.60" stroke="#000000" stroke-width="0.8" />
<text transform="translate(276.77,416.40) rotate(-45)" font-size="6.6" text-anchor="end" fill="#000000" stroke="#000000" stroke-width="0.12">Esophagogastric</text>
<line x1="283.23" y1="409.60" x2="283.23" y2="411.60" stroke="#000000" stroke-width="0.8" />
<text transform="translate(284.83,416.40) rotate(-45)" font-size="6.6" text-anchor="end" fill="#000000" stroke="#000000" stroke-width="0.12">GI-NET</text>
<line x1="291.27" y1="409.60" x2="291.27" y2="411.60" stroke="#000000" stroke-width="0.8" />
<text transform="translate(292.88,416.40) rotate(-45)" font-size="6.6" text-anchor="end" fill="#000000" stroke="#000000" stroke-width="0.12">Cholangiocarcinoma</text>
<line x1="299.32" y1="409.60" x2="299.32" y2="411.60" stroke="#000000" stroke-width="0.8" />
<text transform="translate(300.93,416.40) rotate(-45)" font-size="6.6" text-anchor="end" fill="#000000" stroke="#000000" stroke-width="0.12">Head and neck SQC</text>
<line x1="307.38" y1="409.60" x2="307.38" y2="411.60" stroke="#000000" stroke-width="0.8" />
<text transform="translate(308.98,416.40) rotate(-45)" font-size="6.6" text-anchor="end" fill="#000000" stroke="#000000" stroke-width="0.12">Meningioma</text>
<line x1="315.43" y1="409.60" x2="315.43" y2="411.60" stroke="#000000" stroke-width="0.8" />
<text transform="translate(317.03,416.40) rotate(-45)" font-size="6.6" text-anchor="end" fill="#000000" stroke="#000000" stroke-width="0.12">Ano-genital</text>
<line x1="323.48" y1="409.60" x2="323.48" y2="411.60" stroke="#000000" stroke-width="0.8" />
<text transform="translate(325.08,416.40) rotate(-45)" font-size="6.6" text-anchor="end" fill="#000000" stroke="#000000" stroke-width="0.12">Merkel cell carc.</text>
<line x1="331.52" y1="409.60" x2="331.52" y2="411.60" stroke="#000000" stroke-width="0.8" />
<text transform="translate(333.12,416.40) rotate(-45)" font-size="6.6" text-anchor="end" fill="#000000" stroke="#000000" stroke-width="0.12">Retinoblastoma</text>
<line x1="339.57" y1="409.60" x2="339.57" y2="411.60" stroke="#000000" stroke-width="0.8" />
<text transform="translate(341.18,416.40) rotate(-45)" font-size="6.6" text-anchor="end" fill="#000000" stroke="#000000" stroke-width="0.12">Cutaneous SQC</text>
<line x1="347.62" y1="409.60" x2="347.62" y2="411.60" stroke="#000000" stroke-width="0.8" />
<text transform="translate(349.23,416.40) rotate(-45)" font-size="6.6" text-anchor="end" fill="#000000" stroke="#000000" stroke-width="0.12">Salivary gland</text>
<line x1="355.68" y1="409.60" x2="355.68" y2="411.60" stroke="#000000" stroke-width="0.8" />
<text transform="translate(357.28,416.40) rotate(-45)" font-size="6.6" text-anchor="end" fill="#000000" stroke="#000000" stroke-width="0.12">Thymic</text>
<line x1="363.73" y1="409.60" x2="363.73" y2="411.60" stroke="#000000" stroke-width="0.8" />
<text transform="translate(365.33,416.40) rotate(-45)" font-size="6.6" text-anchor="end" fill="#000000" stroke="#000000" stroke-width="0.12">MPNST</text>
<line x1="371.77" y1="409.60" x2="371.77" y2="411.60" stroke="#000000" stroke-width="0.8" />
<text transform="translate(373.38,416.40) rotate(-45)" font-size="6.6" text-anchor="end" fill="#000000" stroke="#000000" stroke-width="0.12">Lu-NET</text>
<line x1="379.82" y1="409.60" x2="379.82" y2="411.60" stroke="#000000" stroke-width="0.8" />
<text transform="translate(381.43,416.40) rotate(-45)" font-size="6.6" text-anchor="end" fill="#000000" stroke="#000000" stroke-width="0.12">Ependymoma</text>
<line x1="387.88" y1="409.60" x2="387.88" y2="411.60" stroke="#000000" stroke-width="0.8" />
<text transform="translate(389.48,416.40) rotate(-45)" font-size="6.6" text-anchor="end" fill="#000000" stroke="#000000" stroke-width="0.12">Gallbladder</text>
<text transform="translate(6.6,261.4) rotate(-90)" font-size="7.5" text-anchor="middle" fill="#000000" stroke="#000000" stroke-width="0.12">Predicted type (high-conf.)</text>
<text x="238.50" y="473.10" font-size="7.5" text-anchor="middle" font-weight="normal" fill="#000000" stroke="#000000" stroke-width="0.12" >True type</text>
<rect x="409.20" y="21.50" width="16.40" height="4.40" fill="#3b67b3" />
<text x="431.20" y="26.40" font-size="7.5" text-anchor="start" font-weight="normal" fill="#000000" stroke="#000000" stroke-width="0.12" >Correct, high conf.</text>
<rect x="409.20" y="29.75" width="16.40" height="4.40" fill="#a9c7e8" />
<text x="431.20" y="34.65" font-size="7.5" text-anchor="start" font-weight="normal" fill="#000000" stroke="#000000" stroke-width="0.12" >Correct, low conf.</text>
<rect x="409.20" y="38.00" width="16.40" height="4.40" fill="#f6ae7c" />
<text x="431.20" y="42.90" font-size="7.5" text-anchor="start" font-weight="normal" fill="#000000" stroke="#000000" stroke-width="0.12" >Incorrect, low conf.</text>
<rect x="409.20" y="46.25" width="16.40" height="4.40" fill="#b3421f" />
<text x="431.20" y="51.15" font-size="7.5" text-anchor="start" font-weight="normal" fill="#000000" stroke="#000000" stroke-width="0.12" >Incorrect, high conf.</text>
<defs><linearGradient id="cb" x1="0" x2="1" y1="0" y2="0"><stop offset="0" stop-color="#f4a3b4"/><stop offset="0.5" stop-color="#f3f1f2"/><stop offset="1" stop-color="#8fb7e0"/></linearGradient></defs>
<text x="434.40" y="71.10" font-size="7.5" text-anchor="middle" font-weight="normal" fill="#000000" stroke="#000000" stroke-width="0.12" >Incorrect</text>
<line x1="415.00" y1="74.20" x2="453.60" y2="74.20" stroke="#000000" stroke-width="0.9" />
<text x="480.20" y="71.10" font-size="7.5" text-anchor="middle" font-weight="normal" fill="#000000" stroke="#000000" stroke-width="0.12" >Correct</text>
<line x1="460.50" y1="74.20" x2="499.80" y2="74.20" stroke="#000000" stroke-width="0.9" />
<rect x="408.00" y="78.80" width="96.00" height="9.70" fill="url(#cb)" />
<text x="409.20" y="97.00" font-size="7.3" text-anchor="middle" font-weight="normal" fill="#000000" stroke="#000000" stroke-width="0.12" >100</text>
<text x="457.30" y="97.00" font-size="7.3" text-anchor="middle" font-weight="normal" fill="#000000" stroke="#000000" stroke-width="0.12" >0</text>
<text x="503.40" y="97.00" font-size="7.3" text-anchor="middle" font-weight="normal" fill="#000000" stroke="#000000" stroke-width="0.12" >100</text>
<rect x="405.50" y="115.60" width="37.75" height="5.00" fill="#3b67b3" />
<rect x="444.15" y="115.60" width="2.70" height="5.00" fill="#a9c7e8" />
<rect x="447.75" y="115.60" width="2.60" height="5.00" fill="#f6ae7c" />
<rect x="451.25" y="115.60" width="0.75" height="5.00" fill="#b3421f" />
<line x1="403.50" y1="118.10" x2="405.50" y2="118.10" stroke="#000000" stroke-width="0.7" />
<rect x="405.50" y="123.34" width="36.05" height="5.00" fill="#3b67b3" />
<rect x="442.45" y="123.34" width="3.40" height="5.00" fill="#a9c7e8" />
<rect x="446.75" y="123.34" width="4.00" height="5.00" fill="#f6ae7c" />
<rect x="451.65" y="123.34" width="0.35" height="5.00" fill="#b3421f" />
<line x1="403.50" y1="125.84" x2="405.50" y2="125.84" stroke="#000000" stroke-width="0.7" />
<rect x="405.50" y="131.08" width="37.05" height="5.00" fill="#3b67b3" />
<rect x="443.45" y="131.08" width="1.90" height="5.00" fill="#a9c7e8" />
<rect x="446.25" y="131.08" width="4.30" height="5.00" fill="#f6ae7c" />
<rect x="451.45" y="131.08" width="0.55" height="5.00" fill="#b3421f" />
<line x1="403.50" y1="133.58" x2="405.50" y2="133.58" stroke="#000000" stroke-width="0.7" />
<rect x="405.50" y="138.82" width="34.95" height="5.00" fill="#3b67b3" />
<rect x="441.35" y="138.82" width="4.00" height="5.00" fill="#a9c7e8" />
<rect x="446.25" y="138.82" width="3.30" height="5.00" fill="#f6ae7c" />
<rect x="450.45" y="138.82" width="1.55" height="5.00" fill="#b3421f" />
<line x1="403.50" y1="141.32" x2="405.50" y2="141.32" stroke="#000000" stroke-width="0.7" />
<rect x="405.50" y="146.56" width="34.95" height="5.00" fill="#3b67b3" />
<rect x="441.35" y="146.56" width="2.90" height="5.00" fill="#a9c7e8" />
<rect x="445.15" y="146.56" width="5.60" height="5.00" fill="#f6ae7c" />
<rect x="451.65" y="146.56" width="0.35" height="5.00" fill="#b3421f" />
<line x1="403.50" y1="149.06" x2="405.50" y2="149.06" stroke="#000000" stroke-width="0.7" />
<rect x="405.50" y="154.30" width="33.45" height="5.00" fill="#3b67b3" />
<rect x="439.85" y="154.30" width="4.20" height="5.00" fill="#a9c7e8" />
<rect x="444.95" y="154.30" width="5.20" height="5.00" fill="#f6ae7c" />
<rect x="451.05" y="154.30" width="0.95" height="5.00" fill="#b3421f" />
<line x1="403.50" y1="156.80" x2="405.50" y2="156.80" stroke="#000000" stroke-width="0.7" />
<rect x="405.50" y="162.04" width="34.25" height="5.00" fill="#3b67b3" />
<rect x="440.65" y="162.04" width="3.00" height="5.00" fill="#a9c7e8" />
<rect x="444.55" y="162.04" width="5.80" height="5.00" fill="#f6ae7c" />
<rect x="451.25" y="162.04" width="0.75" height="5.00" fill="#b3421f" />
<line x1="403.50" y1="164.54" x2="405.50" y2="164.54" stroke="#000000" stroke-width="0.7" />
<rect x="405.50" y="169.78" width="32.15" height="5.00" fill="#3b67b3" />
<rect x="438.55" y="169.78" width="4.70" height="5.00" fill="#a9c7e8" />
<rect x="444.15" y="169.78" width="4.90" height="5.00" fill="#f6ae7c" />
<rect x="449.95" y="169.78" width="2.05" height="5.00" fill="#b3421f" />
<line x1="403.50" y1="172.28" x2="405.50" y2="172.28" stroke="#000000" stroke-width="0.7" />
<rect x="405.50" y="177.52" width="32.15" height="5.00" fill="#3b67b3" />
<rect x="438.55" y="177.52" width="4.50" height="5.00" fill="#a9c7e8" />
<rect x="443.95" y="177.52" width="5.10" height="5.00" fill="#f6ae7c" />
<rect x="449.95" y="177.52" width="2.05" height="5.00" fill="#b3421f" />
<line x1="403.50" y1="180.02" x2="405.50" y2="180.02" stroke="#000000" stroke-width="0.7" />
<rect x="405.50" y="185.26" width="31.05" height="5.00" fill="#3b67b3" />
<rect x="437.45" y="185.26" width="5.10" height="5.00" fill="#a9c7e8" />
<rect x="443.45" y="185.26" width="3.40" height="5.00" fill="#f6ae7c" />
<rect x="447.75" y="185.26" width="4.25" height="5.00" fill="#b3421f" />
<line x1="403.50" y1="187.76" x2="405.50" y2="187.76" stroke="#000000" stroke-width="0.7" />
<rect x="405.50" y="193.00" width="32.35" height="5.00" fill="#3b67b3" />
<rect x="438.75" y="193.00" width="3.40" height="5.00" fill="#a9c7e8" />
<rect x="443.05" y="193.00" width="5.50" height="5.00" fill="#f6ae7c" />
<rect x="449.45" y="193.00" width="2.55" height="5.00" fill="#b3421f" />
<line x1="403.50" y1="195.50" x2="405.50" y2="195.50" stroke="#000000" stroke-width="0.7" />
<rect x="405.50" y="200.74" width="30.25" height="5.00" fill="#3b67b3" />
<rect x="436.65" y="200.74" width="4.90" height="5.00" fill="#a9c7e8" />
<rect x="442.45" y="200.74" width="4.90" height="5.00" fill="#f6ae7c" />
<rect x="448.25" y="200.74" width="3.75" height="5.00" fill="#b3421f" />
<line x1="403.50" y1="203.24" x2="405.50" y2="203.24" stroke="#000000" stroke-width="0.7" />
<rect x="405.50" y="208.48" width="26.35" height="5.00" fill="#3b67b3" />
<rect x="432.75" y="208.48" width="8.80" height="5.00" fill="#a9c7e8" />
<rect x="442.45" y="208.48" width="8.30" height="5.00" fill="#f6ae7c" />
<rect x="451.65" y="208.48" width="0.35" height="5.00" fill="#b3421f" />
<line x1="403.50" y1="210.98" x2="405.50" y2="210.98" stroke="#000000" stroke-width="0.7" />
<rect x="405.50" y="216.22" width="29.55" height="5.00" fill="#3b67b3" />
<rect x="435.95" y="216.22" width="4.50" height="5.00" fill="#a9c7e8" />
<rect x="441.35" y="216.22" width="9.00" height="5.00" fill="#f6ae7c" />
<rect x="451.25" y="216.22" width="0.75" height="5.00" fill="#b3421f" />
<line x1="403.50" y1="218.72" x2="405.50" y2="218.72" stroke="#000000" stroke-width="0.7" />
<rect x="405.50" y="223.96" width="25.25" height="5.00" fill="#3b67b3" />
<rect x="431.65" y="223.96" width="8.80" height="5.00" fill="#a9c7e8" />
<rect x="441.35" y="223.96" width="5.50" height="5.00" fill="#f6ae7c" />
<rect x="447.75" y="223.96" width="4.25" height="5.00" fill="#b3421f" />
<line x1="403.50" y1="226.46" x2="405.50" y2="226.46" stroke="#000000" stroke-width="0.7" />
<rect x="405.50" y="231.70" width="27.45" height="5.00" fill="#3b67b3" />
<rect x="433.85" y="231.70" width="4.90" height="5.00" fill="#a9c7e8" />
<rect x="439.65" y="231.70" width="6.80" height="5.00" fill="#f6ae7c" />
<rect x="447.35" y="231.70" width="4.65" height="5.00" fill="#b3421f" />
<line x1="403.50" y1="234.20" x2="405.50" y2="234.20" stroke="#000000" stroke-width="0.7" />
<rect x="405.50" y="239.44" width="22.65" height="5.00" fill="#3b67b3" />
<rect x="429.05" y="239.44" width="8.20" height="5.00" fill="#a9c7e8" />
<rect x="438.15" y="239.44" width="13.40" height="5.00" fill="#f6ae7c" />
<line x1="403.50" y1="241.94" x2="405.50" y2="241.94" stroke="#000000" stroke-width="0.7" />
<rect x="405.50" y="247.18" width="24.85" height="5.00" fill="#3b67b3" />
<rect x="431.25" y="247.18" width="6.00" height="5.00" fill="#a9c7e8" />
<rect x="438.15" y="247.18" width="7.00" height="5.00" fill="#f6ae7c" />
<rect x="446.05" y="247.18" width="5.95" height="5.00" fill="#b3421f" />
<line x1="403.50" y1="249.68" x2="405.50" y2="249.68" stroke="#000000" stroke-width="0.7" />
<rect x="405.50" y="254.92" width="17.05" height="5.00" fill="#3b67b3" />
<rect x="423.45" y="254.92" width="12.80" height="5.00" fill="#a9c7e8" />
<rect x="437.15" y="254.92" width="10.40" height="5.00" fill="#f6ae7c" />
<rect x="448.45" y="254.92" width="3.55" height="5.00" fill="#b3421f" />
<line x1="403.50" y1="257.42" x2="405.50" y2="257.42" stroke="#000000" stroke-width="0.7" />
<rect x="405.50" y="262.66" width="19.25" height="5.00" fill="#3b67b3" />
<rect x="425.65" y="262.66" width="9.90" height="5.00" fill="#a9c7e8" />
<rect x="436.45" y="262.66" width="9.90" height="5.00" fill="#f6ae7c" />
<rect x="447.25" y="262.66" width="4.75" height="5.00" fill="#b3421f" />
<line x1="403.50" y1="265.16" x2="405.50" y2="265.16" stroke="#000000" stroke-width="0.7" />
<rect x="405.50" y="270.40" width="19.25" height="5.00" fill="#3b67b3" />
<rect x="425.65" y="270.40" width="8.80" height="5.00" fill="#a9c7e8" />
<rect x="435.35" y="270.40" width="12.20" height="5.00" fill="#f6ae7c" />
<rect x="448.45" y="270.40" width="3.55" height="5.00" fill="#b3421f" />
<line x1="403.50" y1="272.90" x2="405.50" y2="272.90" stroke="#000000" stroke-width="0.7" />
<rect x="405.50" y="278.14" width="28.55" height="5.00" fill="#3b67b3" />
<rect x="435.45" y="278.14" width="11.40" height="5.00" fill="#f6ae7c" />
<rect x="447.75" y="278.14" width="4.25" height="5.00" fill="#b3421f" />
<line x1="403.50" y1="280.64" x2="405.50" y2="280.64" stroke="#000000" stroke-width="0.7" />
<rect x="405.50" y="285.88" width="24.95" height="5.00" fill="#3b67b3" />
<rect x="431.35" y="285.88" width="2.70" height="5.00" fill="#a9c7e8" />
<rect x="434.95" y="285.88" width="12.60" height="5.00" fill="#f6ae7c" />
<rect x="448.45" y="285.88" width="3.55" height="5.00" fill="#b3421f" />
<line x1="403.50" y1="288.38" x2="405.50" y2="288.38" stroke="#000000" stroke-width="0.7" />
<rect x="405.50" y="293.62" width="14.75" height="5.00" fill="#3b67b3" />
<rect x="421.15" y="293.62" width="11.50" height="5.00" fill="#a9c7e8" />
<rect x="433.55" y="293.62" width="12.60" height="5.00" fill="#f6ae7c" />
<rect x="447.05" y="293.62" width="4.95" height="5.00" fill="#b3421f" />
<line x1="403.50" y1="296.12" x2="405.50" y2="296.12" stroke="#000000" stroke-width="0.7" />
<rect x="405.50" y="301.36" width="17.65" height="5.00" fill="#3b67b3" />
<rect x="424.05" y="301.36" width="7.70" height="5.00" fill="#a9c7e8" />
<rect x="432.65" y="301.36" width="13.70" height="5.00" fill="#f6ae7c" />
<rect x="447.25" y="301.36" width="4.75" height="5.00" fill="#b3421f" />
<line x1="403.50" y1="303.86" x2="405.50" y2="303.86" stroke="#000000" stroke-width="0.7" />
<rect x="405.50" y="309.10" width="16.55" height="5.00" fill="#3b67b3" />
<rect x="422.95" y="309.10" width="8.10" height="5.00" fill="#a9c7e8" />
<rect x="431.95" y="309.10" width="16.00" height="5.00" fill="#f6ae7c" />
<rect x="448.85" y="309.10" width="3.15" height="5.00" fill="#b3421f" />
<line x1="403.50" y1="311.60" x2="405.50" y2="311.60" stroke="#000000" stroke-width="0.7" />
<rect x="405.50" y="316.84" width="13.65" height="5.00" fill="#3b67b3" />
<rect x="420.05" y="316.84" width="10.40" height="5.00" fill="#a9c7e8" />
<rect x="431.35" y="316.84" width="16.20" height="5.00" fill="#f6ae7c" />
<rect x="448.45" y="316.84" width="3.55" height="5.00" fill="#b3421f" />
<line x1="403.50" y1="319.34" x2="405.50" y2="319.34" stroke="#000000" stroke-width="0.7" />
<rect x="405.50" y="324.58" width="16.55" height="5.00" fill="#3b67b3" />
<rect x="422.95" y="324.58" width="7.50" height="5.00" fill="#a9c7e8" />
<rect x="431.35" y="324.58" width="20.20" height="5.00" fill="#f6ae7c" />
<line x1="403.50" y1="327.08" x2="405.50" y2="327.08" stroke="#000000" stroke-width="0.7" />
<rect x="405.50" y="332.32" width="11.65" height="5.00" fill="#3b67b3" />
<rect x="418.05" y="332.32" width="11.20" height="5.00" fill="#a9c7e8" />
<rect x="430.15" y="332.32" width="13.30" height="5.00" fill="#f6ae7c" />
<rect x="444.35" y="332.32" width="7.65" height="5.00" fill="#b3421f" />
<line x1="403.50" y1="334.82" x2="405.50" y2="334.82" stroke="#000000" stroke-width="0.7" />
<rect x="405.50" y="340.06" width="10.25" height="5.00" fill="#3b67b3" />
<rect x="416.65" y="340.06" width="11.10" height="5.00" fill="#a9c7e8" />
<rect x="428.65" y="340.06" width="22.90" height="5.00" fill="#f6ae7c" />
<line x1="403.50" y1="342.56" x2="405.50" y2="342.56" stroke="#000000" stroke-width="0.7" />
<rect x="405.50" y="347.80" width="15.85" height="5.00" fill="#3b67b3" />
<rect x="422.25" y="347.80" width="5.50" height="5.00" fill="#a9c7e8" />
<rect x="428.65" y="347.80" width="14.80" height="5.00" fill="#f6ae7c" />
<rect x="444.35" y="347.80" width="7.65" height="5.00" fill="#b3421f" />
<line x1="403.50" y1="350.30" x2="405.50" y2="350.30" stroke="#000000" stroke-width="0.7" />
<rect x="405.50" y="355.54" width="14.35" height="5.00" fill="#3b67b3" />
<rect x="420.75" y="355.54" width="5.20" height="5.00" fill="#a9c7e8" />
<rect x="426.85" y="355.54" width="17.70" height="5.00" fill="#f6ae7c" />
<rect x="445.45" y="355.54" width="6.55" height="5.00" fill="#b3421f" />
<line x1="403.50" y1="358.04" x2="405.50" y2="358.04" stroke="#000000" stroke-width="0.7" />
<rect x="405.50" y="363.28" width="4.15" height="5.00" fill="#3b67b3" />
<rect x="410.55" y="363.28" width="10.00" height="5.00" fill="#a9c7e8" />
<rect x="421.45" y="363.28" width="27.10" height="5.00" fill="#f6ae7c" />
<rect x="449.45" y="363.28" width="2.55" height="5.00" fill="#b3421f" />
<line x1="403.50" y1="365.78" x2="405.50" y2="365.78" stroke="#000000" stroke-width="0.7" />
<rect x="405.50" y="371.02" width="8.65" height="5.00" fill="#3b67b3" />
<rect x="415.05" y="371.02" width="5.20" height="5.00" fill="#a9c7e8" />
<rect x="421.15" y="371.02" width="30.40" height="5.00" fill="#f6ae7c" />
<line x1="403.50" y1="373.52" x2="405.50" y2="373.52" stroke="#000000" stroke-width="0.7" />
<rect x="405.50" y="378.76" width="14.35" height="5.00" fill="#3b67b3" />
<rect x="420.95" y="378.76" width="30.60" height="5.00" fill="#f6ae7c" />
<line x1="403.50" y1="381.26" x2="405.50" y2="381.26" stroke="#000000" stroke-width="0.7" />
<rect x="405.50" y="386.50" width="8.65" height="5.00" fill="#3b67b3" />
<rect x="415.05" y="386.50" width="2.10" height="5.00" fill="#a9c7e8" />
<rect x="418.05" y="386.50" width="30.50" height="5.00" fill="#f6ae7c" />
<rect x="449.45" y="386.50" width="2.55" height="5.00" fill="#b3421f" />
<line x1="403.50" y1="389.00" x2="405.50" y2="389.00" stroke="#000000" stroke-width="0.7" />
<rect x="405.50" y="394.24" width="6.85" height="5.00" fill="#3b67b3" />
<rect x="413.65" y="394.24" width="30.20" height="5.00" fill="#f6ae7c" />
<rect x="444.75" y="394.24" width="7.25" height="5.00" fill="#b3421f" />
<line x1="403.50" y1="396.74" x2="405.50" y2="396.74" stroke="#000000" stroke-width="0.7" />
<rect x="405.50" y="401.98" width="2.25" height="5.00" fill="#3b67b3" />
<rect x="408.65" y="401.98" width="1.50" height="5.00" fill="#a9c7e8" />
<rect x="411.05" y="401.98" width="40.50" height="5.00" fill="#f6ae7c" />
<line x1="403.50" y1="404.48" x2="405.50" y2="404.48" stroke="#000000" stroke-width="0.7" />
<line x1="405.50" y1="112.20" x2="405.50" y2="410.50" stroke="#222" stroke-width="1.0" />
<line x1="405.00" y1="410.00" x2="457.00" y2="410.00" stroke="#222" stroke-width="1.0" />
<line x1="405.50" y1="410.00" x2="405.50" y2="412.00" stroke="#000000" stroke-width="0.7" />
<text x="405.50" y="420.00" font-size="7.3" text-anchor="middle" font-weight="normal" fill="#000000" stroke="#000000" stroke-width="0.12" >0</text>
<line x1="452.00" y1="410.00" x2="452.00" y2="412.00" stroke="#000000" stroke-width="0.7" />
<text x="452.00" y="420.00" font-size="7.3" text-anchor="middle" font-weight="normal" fill="#000000" stroke="#000000" stroke-width="0.12" >1</text>
<text x="429.00" y="431.30" font-size="7.5" text-anchor="middle" font-weight="normal" fill="#000000" stroke="#000000" stroke-width="0.12" >Precision</text>
<rect x="465.50" y="115.60" width="46.60" height="5.00" fill="#7b7b7b" />
<line x1="463.50" y1="118.10" x2="465.50" y2="118.10" stroke="#000000" stroke-width="0.7" />
<rect x="465.50" y="123.34" width="47.70" height="5.00" fill="#7b7b7b" />
<line x1="463.50" y1="125.84" x2="465.50" y2="125.84" stroke="#000000" stroke-width="0.7" />
<rect x="465.50" y="131.08" width="47.40" height="5.00" fill="#7b7b7b" />
<line x1="463.50" y1="133.58" x2="465.50" y2="133.58" stroke="#000000" stroke-width="0.7" />
<rect x="465.50" y="138.82" width="46.60" height="5.00" fill="#7b7b7b" />
<line x1="463.50" y1="141.32" x2="465.50" y2="141.32" stroke="#000000" stroke-width="0.7" />
<rect x="465.50" y="146.56" width="46.80" height="5.00" fill="#7b7b7b" />
<line x1="463.50" y1="149.06" x2="465.50" y2="149.06" stroke="#000000" stroke-width="0.7" />
<rect x="465.50" y="154.30" width="46.60" height="5.00" fill="#7b7b7b" />
<line x1="463.50" y1="156.80" x2="465.50" y2="156.80" stroke="#000000" stroke-width="0.7" />
<rect x="465.50" y="162.04" width="46.80" height="5.00" fill="#7b7b7b" />
<line x1="463.50" y1="164.54" x2="465.50" y2="164.54" stroke="#000000" stroke-width="0.7" />
<rect x="465.50" y="169.78" width="45.50" height="5.00" fill="#7b7b7b" />
<line x1="463.50" y1="172.28" x2="465.50" y2="172.28" stroke="#000000" stroke-width="0.7" />
<rect x="465.50" y="177.52" width="45.50" height="5.00" fill="#7b7b7b" />
<line x1="463.50" y1="180.02" x2="465.50" y2="180.02" stroke="#000000" stroke-width="0.7" />
<rect x="465.50" y="185.26" width="42.50" height="5.00" fill="#7b7b7b" />
<line x1="463.50" y1="187.76" x2="465.50" y2="187.76" stroke="#000000" stroke-width="0.7" />
<rect x="465.50" y="193.00" width="45.50" height="5.00" fill="#7b7b7b" />
<line x1="463.50" y1="195.50" x2="465.50" y2="195.50" stroke="#000000" stroke-width="0.7" />
<rect x="465.50" y="200.74" width="43.50" height="5.00" fill="#7b7b7b" />
<line x1="463.50" y1="203.24" x2="465.50" y2="203.24" stroke="#000000" stroke-width="0.7" />
<rect x="465.50" y="208.48" width="46.50" height="5.00" fill="#7b7b7b" />
<line x1="463.50" y1="210.98" x2="465.50" y2="210.98" stroke="#000000" stroke-width="0.7" />
<rect x="465.50" y="216.22" width="46.80" height="5.00" fill="#7b7b7b" />
<line x1="463.50" y1="218.72" x2="465.50" y2="218.72" stroke="#000000" stroke-width="0.7" />
<rect x="465.50" y="223.96" width="41.40" height="5.00" fill="#7b7b7b" />
<line x1="463.50" y1="226.46" x2="465.50" y2="226.46" stroke="#000000" stroke-width="0.7" />
<rect x="465.50" y="231.70" width="41.40" height="5.00" fill="#7b7b7b" />
<line x1="463.50" y1="234.20" x2="465.50" y2="234.20" stroke="#000000" stroke-width="0.7" />
<rect x="465.50" y="239.44" width="48.30" height="5.00" fill="#7b7b7b" />
<line x1="463.50" y1="241.94" x2="465.50" y2="241.94" stroke="#000000" stroke-width="0.7" />
<rect x="465.50" y="247.18" width="39.70" height="5.00" fill="#7b7b7b" />
<line x1="463.50" y1="249.68" x2="465.50" y2="249.68" stroke="#000000" stroke-width="0.7" />
<rect x="465.50" y="254.92" width="40.20" height="5.00" fill="#7b7b7b" />
<line x1="463.50" y1="257.42" x2="465.50" y2="257.42" stroke="#000000" stroke-width="0.7" />
<rect x="465.50" y="262.66" width="39.50" height="5.00" fill="#7b7b7b" />
<line x1="463.50" y1="265.16" x2="465.50" y2="265.16" stroke="#000000" stroke-width="0.7" />
<rect x="465.50" y="270.40" width="41.80" height="5.00" fill="#7b7b7b" />
<line x1="463.50" y1="272.90" x2="465.50" y2="272.90" stroke="#000000" stroke-width="0.7" />
<rect x="465.50" y="278.14" width="42.20" height="5.00" fill="#7b7b7b" />
<line x1="463.50" y1="280.64" x2="465.50" y2="280.64" stroke="#000000" stroke-width="0.7" />
<rect x="465.50" y="285.88" width="42.50" height="5.00" fill="#7b7b7b" />
<line x1="463.50" y1="288.38" x2="465.50" y2="288.38" stroke="#000000" stroke-width="0.7" />
<rect x="465.50" y="293.62" width="38.00" height="5.00" fill="#7b7b7b" />
<line x1="463.50" y1="296.12" x2="465.50" y2="296.12" stroke="#000000" stroke-width="0.7" />
<rect x="465.50" y="301.36" width="38.40" height="5.00" fill="#7b7b7b" />
<line x1="463.50" y1="303.86" x2="465.50" y2="303.86" stroke="#000000" stroke-width="0.7" />
<rect x="465.50" y="309.10" width="41.10" height="5.00" fill="#7b7b7b" />
<line x1="463.50" y1="311.60" x2="465.50" y2="311.60" stroke="#000000" stroke-width="0.7" />
<rect x="465.50" y="316.84" width="39.50" height="5.00" fill="#7b7b7b" />
<line x1="463.50" y1="319.34" x2="465.50" y2="319.34" stroke="#000000" stroke-width="0.7" />
<rect x="465.50" y="324.58" width="48.10" height="5.00" fill="#7b7b7b" />
<line x1="463.50" y1="327.08" x2="465.50" y2="327.08" stroke="#000000" stroke-width="0.7" />
<rect x="465.50" y="332.32" width="30.50" height="5.00" fill="#7b7b7b" />
<line x1="463.50" y1="334.82" x2="465.50" y2="334.82" stroke="#000000" stroke-width="0.7" />
<rect x="465.50" y="340.06" width="48.10" height="5.00" fill="#7b7b7b" />
<line x1="463.50" y1="342.56" x2="465.50" y2="342.56" stroke="#000000" stroke-width="0.7" />
<rect x="465.50" y="347.80" width="32.10" height="5.00" fill="#7b7b7b" />
<line x1="463.50" y1="350.30" x2="465.50" y2="350.30" stroke="#000000" stroke-width="0.7" />
<rect x="465.50" y="355.54" width="34.40" height="5.00" fill="#7b7b7b" />
<line x1="463.50" y1="358.04" x2="465.50" y2="358.04" stroke="#000000" stroke-width="0.7" />
<rect x="465.50" y="363.28" width="32.10" height="5.00" fill="#7b7b7b" />
<line x1="463.50" y1="365.78" x2="465.50" y2="365.78" stroke="#000000" stroke-width="0.7" />
<rect x="465.50" y="371.02" width="48.10" height="5.00" fill="#7b7b7b" />
<line x1="463.50" y1="373.52" x2="465.50" y2="373.52" stroke="#000000" stroke-width="0.7" />
<rect x="465.50" y="378.76" width="48.10" height="5.00" fill="#7b7b7b" />
<line x1="463.50" y1="381.26" x2="465.50" y2="381.26" stroke="#000000" stroke-width="0.7" />
<rect x="465.50" y="386.50" width="38.40" height="5.00" fill="#7b7b7b" />
<line x1="463.50" y1="389.00" x2="465.50" y2="389.00" stroke="#000000" stroke-width="0.7" />
<rect x="465.50" y="394.24" width="23.80" height="5.00" fill="#7b7b7b" />
<line x1="463.50" y1="396.74" x2="465.50" y2="396.74" stroke="#000000" stroke-width="0.7" />
<rect x="465.50" y="401.98" width="48.10" height="5.00" fill="#7b7b7b" />
<line x1="463.50" y1="404.48" x2="465.50" y2="404.48" stroke="#000000" stroke-width="0.7" />
<line x1="465.50" y1="112.20" x2="465.50" y2="410.50" stroke="#222" stroke-width="1.0" />
<line x1="465.00" y1="410.00" x2="517.00" y2="410.00" stroke="#222" stroke-width="1.0" />
<line x1="465.50" y1="410.00" x2="465.50" y2="412.00" stroke="#000000" stroke-width="0.7" />
<text x="465.50" y="420.00" font-size="7.3" text-anchor="middle" font-weight="normal" fill="#000000" stroke="#000000" stroke-width="0.12" >0</text>
<line x1="514.50" y1="410.00" x2="514.50" y2="412.00" stroke="#000000" stroke-width="0.7" />
<text x="514.50" y="420.00" font-size="7.3" text-anchor="middle" font-weight="normal" fill="#000000" stroke="#000000" stroke-width="0.12" >1</text>
<text x="489.60" y="431.30" font-size="7.5" text-anchor="middle" font-weight="normal" fill="#000000" stroke="#000000" stroke-width="0.12" >High-conf PPV</text>
<polygon points="37.20,655.80 67.78,631.59 98.36,622.51 128.94,602.84 159.52,585.45 190.10,530.22 190.10,549.89 159.52,601.94 128.94,613.44 98.36,633.10 67.78,646.72 37.20,655.80" fill="#e3e3e3"/>
<polyline points="37.20,655.80 67.78,639.16 98.36,628.57 128.94,608.14 159.52,593.77 190.10,539.90" fill="none" stroke="#606060" stroke-width="1.2"/>
<polyline points="37.20,655.80 67.78,647.02 98.36,619.49 128.94,592.25 159.52,564.57 190.10,513.12" fill="none" stroke="#2a6fa3" stroke-width="1.3"/>
<line x1="37.50" y1="504.00" x2="37.50" y2="656.00" stroke="#222" stroke-width="1.0" />
<line x1="37.00" y1="655.50" x2="190.60" y2="655.50" stroke="#222" stroke-width="1.0" />
<line x1="35.30" y1="655.80" x2="37.50" y2="655.80" stroke="#000000" stroke-width="0.8" />
<text x="33.80" y="658.40" font-size="7.3" text-anchor="end" font-weight="normal" fill="#000000" stroke="#000000" stroke-width="0.12" >0.0</text>
<line x1="37.20" y1="655.50" x2="37.20" y2="657.70" stroke="#000000" stroke-width="0.8" />
<text x="37.20" y="666.60" font-size="7.3" text-anchor="middle" font-weight="normal" fill="#000000" stroke="#000000" stroke-width="0.12" >0.0</text>
<line x1="35.30" y1="625.54" x2="37.50" y2="625.54" stroke="#000000" stroke-width="0.8" />
<text x="33.80" y="628.14" font-size="7.3" text-anchor="end" font-weight="normal" fill="#000000" stroke="#000000" stroke-width="0.12" >0.2</text>
<line x1="67.78" y1="655.50" x2="67.78" y2="657.70" stroke="#000000" stroke-width="0.8" />
<text x="67.78" y="666.60" font-size="7.3" text-anchor="middle" font-weight="normal" fill="#000000" stroke="#000000" stroke-width="0.12" >0.2</text>
<line x1="35.30" y1="595.28" x2="37.50" y2="595.28" stroke="#000000" stroke-width="0.8" />
<text x="33.80" y="597.88" font-size="7.3" text-anchor="end" font-weight="normal" fill="#000000" stroke="#000000" stroke-width="0.12" >0.4</text>
<line x1="98.36" y1="655.50" x2="98.36" y2="657.70" stroke="#000000" stroke-width="0.8" />
<text x="98.36" y="666.60" font-size="7.3" text-anchor="middle" font-weight="normal" fill="#000000" stroke="#000000" stroke-width="0.12" >0.4</text>
<line x1="35.30" y1="565.02" x2="37.50" y2="565.02" stroke="#000000" stroke-width="0.8" />
<text x="33.80" y="567.62" font-size="7.3" text-anchor="end" font-weight="normal" fill="#000000" stroke="#000000" stroke-width="0.12" >0.6</text>
<line x1="128.94" y1="655.50" x2="128.94" y2="657.70" stroke="#000000" stroke-width="0.8" />
<text x="128.94" y="666.60" font-size="7.3" text-anchor="middle" font-weight="normal" fill="#000000" stroke="#000000" stroke-width="0.12" >0.6</text>
<line x1="35.30" y1="534.76" x2="37.50" y2="534.76" stroke="#000000" stroke-width="0.8" />
<text x="33.80" y="537.36" font-size="7.3" text-anchor="end" font-weight="normal" fill="#000000" stroke="#000000" stroke-width="0.12" >0.8</text>
<line x1="159.52" y1="655.50" x2="159.52" y2="657.70" stroke="#000000" stroke-width="0.8" />
<text x="159.52" y="666.60" font-size="7.3" text-anchor="middle" font-weight="normal" fill="#000000" stroke="#000000" stroke-width="0.12" >0.8</text>
<line x1="35.30" y1="504.50" x2="37.50" y2="504.50" stroke="#000000" stroke-width="0.8" />
<text x="33.80" y="507.10" font-size="7.3" text-anchor="end" font-weight="normal" fill="#000000" stroke="#000000" stroke-width="0.12" >1.0</text>
<line x1="190.10" y1="655.50" x2="190.10" y2="657.70" stroke="#000000" stroke-width="0.8" />
<text x="190.10" y="666.60" font-size="7.3" text-anchor="middle" font-weight="normal" fill="#000000" stroke="#000000" stroke-width="0.12" >1.0</text>
<text x="112.70" y="677.50" font-size="7.5" text-anchor="middle" font-weight="bold" fill="#000000" stroke="#000000" stroke-width="0.12" >Confidence threshold</text>
<text transform="translate(14.0,579.4) rotate(-90)" font-size="7.5" font-weight="bold" text-anchor="middle" fill="#000000">Accuracy</text>
<line x1="41.00" y1="513.10" x2="55.80" y2="513.10" stroke="#707070" stroke-width="1.6" />
<line x1="41.00" y1="522.60" x2="55.80" y2="522.60" stroke="#2a6fa3" stroke-width="1.6" />
<text x="59.00" y="515.80" font-size="7.5" text-anchor="start" font-weight="normal" fill="#000000" stroke="#000000" stroke-width="0.12" >GDD-single, avg. ECE = 0.14</text>
<text x="59.00" y="525.30" font-size="7.5" text-anchor="start" font-weight="normal" fill="#000000" stroke="#000000" stroke-width="0.12" >GDD-ENS, ECE = 0.04</text>
<rect x="247.25" y="605.22" width="8.10" height="6.18" fill="#3e9c5c" />
<rect x="247.25" y="521.96" width="8.10" height="83.27" fill="#3f6cb5" />
<rect x="247.25" y="510.67" width="8.10" height="11.28" fill="#a6c5ea" />
<rect x="264.35" y="587.76" width="8.10" height="23.64" fill="#8b6b54" />
<rect x="281.55" y="590.72" width="8.10" height="20.68" fill="#8b6b54" />
<rect x="298.55" y="607.91" width="8.10" height="3.49" fill="#3e9c5c" />
<rect x="298.55" y="603.34" width="8.10" height="4.57" fill="#97d09e" />
<rect x="298.55" y="597.16" width="8.10" height="6.18" fill="#a6c5ea" />
<rect x="315.45" y="610.33" width="8.10" height="1.07" fill="#3e9c5c" />
<rect x="315.45" y="604.15" width="8.10" height="6.18" fill="#a6c5ea" />
<rect x="338.45" y="580.51" width="8.10" height="30.89" fill="#e37150" />
<rect x="355.85" y="606.03" width="8.10" height="5.37" fill="#3f6cb5" />
<rect x="355.85" y="584.00" width="8.10" height="22.03" fill="#a6c5ea" />
<rect x="373.05" y="600.12" width="8.10" height="11.28" fill="#3f6cb5" />
<rect x="373.05" y="593.40" width="8.10" height="6.72" fill="#a6c5ea" />
<rect x="389.95" y="608.98" width="8.10" height="2.42" fill="#97d09e" />
<rect x="389.95" y="607.64" width="8.10" height="1.34" fill="#3e9c5c" />
<rect x="389.95" y="602.54" width="8.10" height="5.10" fill="#3f6cb5" />
<rect x="406.95" y="609.52" width="8.10" height="1.88" fill="#3e9c5c" />
<rect x="406.95" y="607.91" width="8.10" height="1.61" fill="#97d09e" />
<rect x="406.95" y="605.49" width="8.10" height="2.42" fill="#a6c5ea" />
<rect x="430.00" y="602.54" width="6.80" height="8.86" fill="#1f2a78" />
<rect x="430.00" y="571.92" width="6.80" height="30.62" fill="#3f6cb5" />
<rect x="430.00" y="523.30" width="6.80" height="48.62" fill="#a6c5ea" />
<rect x="444.00" y="556.87" width="6.80" height="54.53" fill="#8b6b54" />
<rect x="444.00" y="526.25" width="6.80" height="30.62" fill="#dfb594" />
<rect x="458.20" y="586.69" width="6.80" height="24.71" fill="#3e9c5c" />
<rect x="458.20" y="567.89" width="6.80" height="18.80" fill="#97d09e" />
<rect x="472.80" y="608.18" width="6.80" height="3.22" fill="#e37150" />
<rect x="472.80" y="588.57" width="6.80" height="19.61" fill="#f5a98d" />
<rect x="487.20" y="592.60" width="6.80" height="18.80" fill="#727272" />
<rect x="501.20" y="602.00" width="6.80" height="9.40" fill="#f2b51e" />
<line x1="242.50" y1="505.60" x2="242.50" y2="612.00" stroke="#222" stroke-width="1.0" />
<line x1="242.00" y1="611.50" x2="512.00" y2="611.50" stroke="#222" stroke-width="1.0" />
<line x1="334.30" y1="505.60" x2="334.30" y2="611.60" stroke="#555555" stroke-width="0.9" />
<line x1="426.50" y1="505.60" x2="426.50" y2="611.60" stroke="#555555" stroke-width="0.9" />
<line x1="240.30" y1="611.40" x2="242.50" y2="611.40" stroke="#000000" stroke-width="0.8" />
<text x="239.30" y="614.00" font-size="7.3" text-anchor="end" font-weight="normal" fill="#000000" stroke="#000000" stroke-width="0.12" >0.00</text>
<line x1="240.30" y1="597.97" x2="242.50" y2="597.97" stroke="#000000" stroke-width="0.8" />
<text x="239.30" y="600.57" font-size="7.3" text-anchor="end" font-weight="normal" fill="#000000" stroke="#000000" stroke-width="0.12" >0.05</text>
<line x1="240.30" y1="584.54" x2="242.50" y2="584.54" stroke="#000000" stroke-width="0.8" />
<text x="239.30" y="587.14" font-size="7.3" text-anchor="end" font-weight="normal" fill="#000000" stroke="#000000" stroke-width="0.12" >0.10</text>
<line x1="240.30" y1="571.11" x2="242.50" y2="571.11" stroke="#000000" stroke-width="0.8" />
<text x="239.30" y="573.71" font-size="7.3" text-anchor="end" font-weight="normal" fill="#000000" stroke="#000000" stroke-width="0.12" >0.15</text>
<line x1="240.30" y1="557.68" x2="242.50" y2="557.68" stroke="#000000" stroke-width="0.8" />
<text x="239.30" y="560.28" font-size="7.3" text-anchor="end" font-weight="normal" fill="#000000" stroke="#000000" stroke-width="0.12" >0.20</text>
<line x1="240.30" y1="544.25" x2="242.50" y2="544.25" stroke="#000000" stroke-width="0.8" />
<text x="239.30" y="546.85" font-size="7.3" text-anchor="end" font-weight="normal" fill="#000000" stroke="#000000" stroke-width="0.12" >0.25</text>
<line x1="240.30" y1="530.82" x2="242.50" y2="530.82" stroke="#000000" stroke-width="0.8" />
<text x="239.30" y="533.42" font-size="7.3" text-anchor="end" font-weight="normal" fill="#000000" stroke="#000000" stroke-width="0.12" >0.30</text>
<line x1="240.30" y1="517.39" x2="242.50" y2="517.39" stroke="#000000" stroke-width="0.8" />
<text x="239.30" y="519.99" font-size="7.3" text-anchor="end" font-weight="normal" fill="#000000" stroke="#000000" stroke-width="0.12" >0.35</text>
<text transform="translate(218.0,564.7) rotate(-90)" font-size="7.5" font-weight="bold" text-anchor="middle" fill="#000000">Importance score proportion</text>
<line x1="251.30" y1="611.50" x2="251.30" y2="613.20" stroke="#000000" stroke-width="0.8" />
<text transform="translate(253.90,616.00) rotate(-90)" font-size="7.3" text-anchor="end" fill="#000000" stroke="#000000" stroke-width="0.12">APC</text>
<line x1="268.40" y1="611.50" x2="268.40" y2="613.20" stroke="#000000" stroke-width="0.8" />
<text transform="translate(271.00,616.00) rotate(-90)" font-size="7.3" text-anchor="end" fill="#000000" stroke="#000000" stroke-width="0.12">13q</text>
<line x1="285.60" y1="611.50" x2="285.60" y2="613.20" stroke="#000000" stroke-width="0.8" />
<text transform="translate(288.20,616.00) rotate(-90)" font-size="7.3" text-anchor="end" fill="#000000" stroke="#000000" stroke-width="0.12">20q</text>
<line x1="302.60" y1="611.50" x2="302.60" y2="613.20" stroke="#000000" stroke-width="0.8" />
<text transform="translate(305.20,616.00) rotate(-90)" font-size="7.3" text-anchor="end" fill="#000000" stroke="#000000" stroke-width="0.12">KRAS</text>
<line x1="319.50" y1="611.50" x2="319.50" y2="613.20" stroke="#000000" stroke-width="0.8" />
<text transform="translate(322.10,616.00) rotate(-90)" font-size="7.3" text-anchor="end" fill="#000000" stroke="#000000" stroke-width="0.12">TP53</text>
<line x1="342.50" y1="611.50" x2="342.50" y2="613.20" stroke="#000000" stroke-width="0.8" />
<text transform="translate(345.10,616.00) rotate(-90)" font-size="7.3" text-anchor="end" fill="#000000" stroke="#000000" stroke-width="0.12">UV sig.</text>
<line x1="359.90" y1="611.50" x2="359.90" y2="613.20" stroke="#000000" stroke-width="0.8" />
<text transform="translate(362.50,616.00) rotate(-90)" font-size="7.3" text-anchor="end" fill="#000000" stroke="#000000" stroke-width="0.12">NOTCH1</text>
<line x1="377.10" y1="611.50" x2="377.10" y2="613.20" stroke="#000000" stroke-width="0.8" />
<text transform="translate(379.70,616.00) rotate(-90)" font-size="7.3" text-anchor="end" fill="#000000" stroke="#000000" stroke-width="0.12">NOTCH2</text>
<line x1="394.00" y1="611.50" x2="394.00" y2="613.20" stroke="#000000" stroke-width="0.8" />
<text transform="translate(396.60,616.00) rotate(-90)" font-size="7.3" text-anchor="end" fill="#000000" stroke="#000000" stroke-width="0.12">CDKN2A</text>
<line x1="411.00" y1="611.50" x2="411.00" y2="613.20" stroke="#000000" stroke-width="0.8" />
<text transform="translate(413.60,616.00) rotate(-90)" font-size="7.3" text-anchor="end" fill="#000000" stroke="#000000" stroke-width="0.12">TP53</text>
<line x1="433.40" y1="611.50" x2="433.40" y2="613.20" stroke="#000000" stroke-width="0.8" />
<text transform="translate(436.00,616.00) rotate(-90)" font-size="7.3" text-anchor="end" fill="#000000" stroke="#000000" stroke-width="0.12">Mutations</text>
<line x1="447.40" y1="611.50" x2="447.40" y2="613.20" stroke="#000000" stroke-width="0.8" />
<text transform="translate(450.00,616.00) rotate(-90)" font-size="7.3" text-anchor="end" fill="#000000" stroke="#000000" stroke-width="0.12">CNAs</text>
<line x1="461.60" y1="611.50" x2="461.60" y2="613.20" stroke="#000000" stroke-width="0.8" />
<text transform="translate(464.20,616.00) rotate(-90)" font-size="7.3" text-anchor="end" fill="#000000" stroke="#000000" stroke-width="0.12">Hotspots</text>
<line x1="476.20" y1="611.50" x2="476.20" y2="613.20" stroke="#000000" stroke-width="0.8" />
<text transform="translate(478.80,616.00) rotate(-90)" font-size="7.3" text-anchor="end" fill="#000000" stroke="#000000" stroke-width="0.12">Signatures</text>
<line x1="490.60" y1="611.50" x2="490.60" y2="613.20" stroke="#000000" stroke-width="0.8" />
<text transform="translate(493.20,616.00) rotate(-90)" font-size="7.3" text-anchor="end" fill="#000000" stroke="#000000" stroke-width="0.12">Other</text>
<line x1="504.60" y1="611.50" x2="504.60" y2="613.20" stroke="#000000" stroke-width="0.8" />
<text transform="translate(507.20,616.00) rotate(-90)" font-size="7.3" text-anchor="end" fill="#000000" stroke="#000000" stroke-width="0.12">Fusions</text>
<text x="250.3" y="500.0" font-size="7.5" fill="#000000" stroke="#000000" stroke-width="0.12"><tspan font-weight="bold">Colorectal</tspan> (<tspan font-style="italic">n</tspan> = 814)</text>
<text x="335.7" y="500.0" font-size="7.5" fill="#000000" stroke="#000000" stroke-width="0.12"><tspan font-weight="bold">Cutaneous SQC</tspan> (<tspan font-style="italic">n</tspan> = 8)</text>
<text x="430.6" y="500.0" font-size="7.5" fill="#000000" stroke="#000000" stroke-width="0.12"><tspan font-weight="bold">All correct</tspan> (<tspan font-style="italic">n</tspan> = 5,490)</text>
<rect x="226.20" y="660.50" width="10.00" height="2.40" fill="#a6c5ea" />
<text x="241.00" y="664.30" font-size="7.5" text-anchor="start" font-weight="normal" fill="#000000" stroke="#000000" stroke-width="0.12" >Any mutation</text>
<rect x="226.20" y="670.83" width="10.00" height="2.40" fill="#3f6cb5" />
<text x="241.00" y="674.63" font-size="7.5" text-anchor="start" font-weight="normal" fill="#000000" stroke="#000000" stroke-width="0.12" >Truncating mutation</text>
<rect x="226.20" y="681.16" width="10.00" height="2.40" fill="#1f2a78" />
<text x="241.00" y="684.96" font-size="7.5" text-anchor="start" font-weight="normal" fill="#000000" stroke="#000000" stroke-width="0.12" >Promoter mutation</text>
<rect x="226.20" y="691.49" width="10.00" height="2.40" fill="#727272" />
<text x="241.00" y="695.29" font-size="7.5" text-anchor="start" font-weight="normal" fill="#000000" stroke="#000000" stroke-width="0.12" >Other</text>
<rect x="322.00" y="660.50" width="10.00" height="2.40" fill="#97d09e" />
<text x="337.30" y="664.30" font-size="7.5" text-anchor="start" font-weight="normal" fill="#000000" stroke="#000000" stroke-width="0.12" >Allele specific hotspot</text>
<rect x="322.00" y="670.83" width="10.00" height="2.40" fill="#3e9c5c" />
<text x="337.30" y="674.63" font-size="7.5" text-anchor="start" font-weight="normal" fill="#000000" stroke="#000000" stroke-width="0.12" >Gene specific hotspot</text>
<rect x="322.00" y="681.16" width="10.00" height="2.40" fill="#dfb594" />
<text x="337.30" y="684.96" font-size="7.5" text-anchor="start" font-weight="normal" fill="#000000" stroke="#000000" stroke-width="0.12" >Focal copy number</text>
<rect x="322.00" y="691.49" width="10.00" height="2.40" fill="#8b6b54" />
<text x="337.30" y="695.29" font-size="7.5" text-anchor="start" font-weight="normal" fill="#000000" stroke="#000000" stroke-width="0.12" >Arm level copy number</text>
<rect x="431.20" y="660.50" width="10.00" height="2.40" fill="#f5a98d" />
<text x="446.00" y="664.30" font-size="7.5" text-anchor="start" font-weight="normal" fill="#000000" stroke="#000000" stroke-width="0.12" >Substitution count</text>
<rect x="431.20" y="670.83" width="10.00" height="2.40" fill="#e37150" />
<text x="446.00" y="674.63" font-size="7.5" text-anchor="start" font-weight="normal" fill="#000000" stroke="#000000" stroke-width="0.12" >Signature calculation</text>
<rect x="431.20" y="681.16" width="10.00" height="2.40" fill="#fbe68c" />
<text x="446.00" y="684.96" font-size="7.5" text-anchor="start" font-weight="normal" fill="#000000" stroke="#000000" stroke-width="0.12" >Intergenic fusion</text>
<rect x="431.20" y="691.49" width="10.00" height="2.40" fill="#f2b51e" />
<text x="446.00" y="695.29" font-size="7.5" text-anchor="start" font-weight="normal" fill="#000000" stroke="#000000" stroke-width="0.12" >Intragenic fusion</text>
</svg></body></html>
